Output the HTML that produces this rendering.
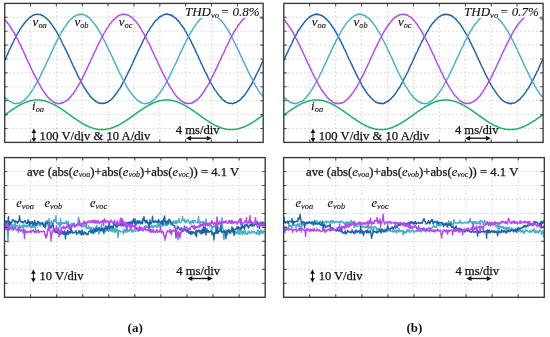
<!DOCTYPE html>
<html><head><meta charset="utf-8"><title>Figure</title><style>html,body{margin:0;padding:0;background:#fff}body{width:550px;height:337px;overflow:hidden}svg{display:block}</style></head><body>
<svg width="550" height="337" viewBox="0 0 550 337">
<style>.g{stroke:#d2d2d2;stroke-width:1;stroke-dasharray:1.6 2.4;fill:none}.f{fill:none;stroke:#383838;stroke-width:1.35}.t{fill:none;stroke:#383838;stroke-width:1.1;opacity:.85}text{font-family:"Liberation Serif",serif;fill:#111;stroke:#111;stroke-width:0.25px}.i{font-style:italic;stroke-width:0.12px}</style>
<rect width="550" height="337" fill="#fff"/>
<line x1="30.55" y1="3.4" x2="30.55" y2="142.4" class="g"/>
<line x1="56.4" y1="3.4" x2="56.4" y2="142.4" class="g"/>
<line x1="82.25" y1="3.4" x2="82.25" y2="142.4" class="g"/>
<line x1="108.1" y1="3.4" x2="108.1" y2="142.4" class="g"/>
<line x1="133.95" y1="3.4" x2="133.95" y2="142.4" class="g"/>
<line x1="159.8" y1="3.4" x2="159.8" y2="142.4" class="g"/>
<line x1="185.65" y1="3.4" x2="185.65" y2="142.4" class="g"/>
<line x1="211.5" y1="3.4" x2="211.5" y2="142.4" class="g"/>
<line x1="237.35" y1="3.4" x2="237.35" y2="142.4" class="g"/>
<line x1="4.7" y1="17.3" x2="263.2" y2="17.3" class="g"/>
<line x1="4.7" y1="31.2" x2="263.2" y2="31.2" class="g"/>
<line x1="4.7" y1="45.1" x2="263.2" y2="45.1" class="g"/>
<line x1="4.7" y1="59" x2="263.2" y2="59" class="g"/>
<line x1="4.7" y1="72.9" x2="263.2" y2="72.9" class="g"/>
<line x1="4.7" y1="86.8" x2="263.2" y2="86.8" class="g"/>
<line x1="4.7" y1="100.7" x2="263.2" y2="100.7" class="g"/>
<line x1="4.7" y1="114.6" x2="263.2" y2="114.6" class="g"/>
<line x1="4.7" y1="128.5" x2="263.2" y2="128.5" class="g"/>
<clipPath id="ct0"><rect x="4.7" y="3.4" width="258.5" height="139.0"/></clipPath>
<g clip-path="url(#ct0)">
<path d="M4.7 59.94 5.2 59.36 5.7 58.22 6.2 56.78 6.7 55.86 7.2 54.75 7.7 53.82 8.2 52.84 8.7 51.28 9.2 50.17 9.7 49.67 10.2 48.33 10.7 47.51 11.2 45.94 11.7 45.21 12.2 44.38 12.7 43.02 13.2 42.51 13.7 41.48 14.2 39.88 14.7 38.9 15.2 38.29 15.7 37.61 16.2 36.28 16.7 35.24 17.2 34.47 17.7 33.29 18.2 32.54 18.7 31.82 19.2 31.01 19.7 29.99 20.2 29.17 20.7 28.36 21.2 27.74 21.7 26.85 22.2 25.92 22.7 25.76 23.2 24.86 23.7 24.23 24.2 23.24 24.7 23.16 25.2 22.44 25.7 21.32 26.2 20.88 26.7 20.59 27.2 20.05 27.7 19.69 28.2 18.84 28.7 18.66 29.2 18.11 29.7 17.43 30.2 17.23 30.7 17.07 31.2 16.7 31.7 16.14 32.2 15.9 32.7 15.25 33.2 15.15 33.7 15.32 34.2 14.86 34.7 14.52 35.2 14.64 35.7 14.64 36.2 14.53 36.7 14.26 37.2 14.27 37.7 14.31 38.2 14.51 38.7 14.38 39.2 14.36 39.7 14.52 40.2 14.32 40.7 14.48 41.2 15.11 41.7 15.51 42.2 15.46 42.7 15.57 43.2 15.7 43.7 16.23 44.2 16.89 44.7 17.1 45.2 17.32 45.7 17.94 46.2 17.93 46.7 18.58 47.2 19.36 47.7 19.59 48.2 20.03 48.7 20.44 49.2 21.2 49.7 22.08 50.2 22.02 50.7 23.2 51.2 23.88 51.7 24.6 52.2 25.19 52.7 25.96 53.2 26.49 53.7 27.27 54.2 27.95 54.7 28.48 55.2 29.86 55.7 30.47 56.2 31.06 56.7 32.13 57.2 32.99 57.7 33.79 58.2 34.69 58.7 35.74 59.2 36.73 59.7 37.67 60.2 38.52 60.7 39.19 61.2 40.31 61.7 41.27 62.2 42.56 62.7 43.76 63.2 44.74 63.7 45.77 64.2 46.82 64.7 47.47 65.2 48.94 65.7 49.88 66.2 50.53 66.7 51.55 67.2 52.62 67.7 54.21 68.2 54.94 68.7 55.92 69.2 57.36 69.7 58.25 70.2 59.14 70.7 60.29 71.2 61.63 71.7 62.46 72.2 63.61 72.7 64.99 73.2 65.88 73.7 66.86 74.2 68.03 74.7 68.77 75.2 70.08 75.7 71.15 76.2 72.02 76.7 72.99 77.2 74.57 77.7 75.31 78.2 76.1 78.7 77.37 79.2 78.5 79.7 78.91 80.2 79.87 80.7 80.91 81.2 82.24 81.7 82.77 82.2 84.05 82.7 84.92 83.2 85.7 83.7 86.34 84.2 87.71 84.7 88.41 85.2 89.02 85.7 89.6 86.2 90.67 86.7 91.25 87.2 92.11 87.7 92.65 88.2 93.56 88.7 93.83 89.2 94.66 89.7 95.76 90.2 96.3 90.7 96.49 91.2 97.45 91.7 97.61 92.2 98.57 92.7 98.93 93.2 99.17 93.7 99.51 94.2 99.77 94.7 100.78 95.2 100.57 95.7 101.47 96.2 101.89 96.7 101.92 97.2 101.92 97.7 102.66 98.2 102.96 98.7 102.97 99.2 103.01 99.7 103.07 100.2 103.17 100.7 103.16 101.2 103.56 101.7 103.44 102.2 103.29 102.7 103.21 103.2 103.57 103.7 103.25 104.2 103.3 104.7 103.07 105.2 103.31 105.7 103.16 106.2 102.35 106.7 102.26 107.2 102.11 107.7 102.3 108.2 101.86 108.7 101.23 109.2 100.8 109.7 100.75 110.2 100.47 110.7 100.12 111.2 99.26 111.7 99.17 112.2 98.54 112.7 97.89 113.2 97.7 113.7 96.62 114.2 96.38 114.7 95.32 115.2 94.76 115.7 94.63 116.2 93.47 116.7 93.17 117.2 92.35 117.7 91.79 118.2 90.71 118.7 89.92 119.2 89.1 119.7 88.7 120.2 87.7 120.7 87.1 121.2 86.2 121.7 84.81 122.2 84.21 122.7 83 123.2 82.04 123.7 81.14 124.2 80.75 124.7 79.74 125.2 78.8 125.7 77.48 126.2 76.68 126.7 75.8 127.2 74.51 127.7 73.63 128.2 72.35 128.7 71.22 129.2 70.31 129.7 69.69 130.2 68.41 130.7 67.6 131.2 66.21 131.7 65.01 132.2 64.29 132.7 63.24 133.2 61.59 133.7 60.97 134.2 59.48 134.7 58.41 135.2 57.87 135.7 56.2 136.2 55.25 136.7 54.7 137.2 53.22 137.7 51.94 138.2 50.9 138.7 49.89 139.2 49.18 139.7 47.68 140.2 47.2 140.7 45.79 141.2 45.17 141.7 44.1 142.2 42.66 142.7 41.62 143.2 40.78 143.7 39.53 144.2 38.95 144.7 37.56 145.2 36.59 145.7 36.33 146.2 34.93 146.7 34.23 147.2 33.23 147.7 32.26 148.2 31.22 148.7 30.97 149.2 30.18 149.7 29.36 150.2 27.96 150.7 27.26 151.2 26.78 151.7 26.3 152.2 25.27 152.7 24.67 153.2 23.97 153.7 23.03 154.2 22.59 154.7 21.81 155.2 21.17 155.7 20.48 156.2 20.07 156.7 20.03 157.2 19.15 157.7 18.81 158.2 18.35 158.7 18.12 159.2 17.33 159.7 16.89 160.2 16.54 160.7 16.2 161.2 16.26 161.7 16.01 162.2 15.33 162.7 15.12 163.2 15.06 163.7 14.9 164.2 14.76 164.7 14.38 165.2 14.12 165.7 14.2 166.2 14.03 166.7 14.34 167.2 14 167.7 14.03 168.2 14.48 168.7 14.32 169.2 14.78 169.7 14.7 170.2 15.12 170.7 14.81 171.2 15.26 171.7 15.7 172.2 15.46 172.7 16.36 173.2 16.13 173.7 16.89 174.2 17.4 174.7 17.67 175.2 17.73 175.7 18.02 176.2 18.76 176.7 19.53 177.2 19.6 177.7 20.55 178.2 20.58 178.7 21.69 179.2 21.67 179.7 22.49 180.2 23.54 180.7 24.14 181.2 24.89 181.7 25.55 182.2 26.21 182.7 26.91 183.2 27.31 183.7 28.27 184.2 28.87 184.7 30.08 185.2 30.88 185.7 31.44 186.2 32.17 186.7 33.68 187.2 34.47 187.7 35.2 188.2 36.11 188.7 37.27 189.2 37.94 189.7 38.86 190.2 39.8 190.7 40.73 191.2 41.56 191.7 43 192.2 43.86 192.7 44.99 193.2 45.67 193.7 46.92 194.2 47.81 194.7 48.86 195.2 50.01 195.7 51.47 196.2 52.24 196.7 53.32 197.2 54.54 197.7 55.36 198.2 56.28 198.7 57.73 199.2 58.79 199.7 59.98 200.2 60.92 200.7 62.17 201.2 63.28 201.7 64.01 202.2 65.27 202.7 66.33 203.2 67.22 203.7 68.41 204.2 69.57 204.7 70.86 205.2 71.91 205.7 72.49 206.2 73.78 206.7 74.38 207.2 75.4 207.7 76.71 208.2 77.96 208.7 78.43 209.2 79.82 209.7 80.86 210.2 81.4 210.7 82.59 211.2 83.61 211.7 84.18 212.2 85.29 212.7 86.18 213.2 86.94 213.7 87.96 214.2 88.8 214.7 89.65 215.2 90.16 215.7 90.65 216.2 91.45 216.7 92.15 217.2 93.1 217.7 93.92 218.2 94.09 218.7 95.18 219.2 95.83 219.7 96.17 220.2 96.87 220.7 97.18 221.2 98.11 221.7 98.14 222.2 99.29 222.7 99.63 223.2 99.95 223.7 100.11 224.2 100.96 224.7 101.36 225.2 101.12 225.7 101.89 226.2 102.23 226.7 102.37 227.2 102.64 227.7 102.67 228.2 103.2 228.7 103.4 229.2 103.12 229.7 103.53 230.2 103.35 230.7 103.23 231.2 103.37 231.7 103.24 232.2 103.77 232.7 103.75 233.2 103.09 233.7 103.33 234.2 103.07 234.7 102.72 235.2 102.67 235.7 102.43 236.2 102.55 236.7 101.78 237.2 101.63 237.7 101.5 238.2 100.87 238.7 100.94 239.2 100.55 239.7 100.3 240.2 99.43 240.7 99.04 241.2 98.74 241.7 98.05 242.2 97.75 242.7 96.97 243.2 96.7 243.7 96.18 244.2 95.58 244.7 95.06 245.2 94.11 245.7 93.39 246.2 92.95 246.7 92.17 247.2 91.3 247.7 90.41 248.2 89.57 248.7 88.65 249.2 88.33 249.7 87.02 250.2 86.62 250.7 85.62 251.2 85.04 251.7 84 252.2 83.24 252.7 81.74 253.2 81.06 253.7 80.16 254.2 79.02 254.7 78.18 255.2 77.1 255.7 76.23 256.2 74.85 256.7 74.15 257.2 73.13 257.7 72 258.2 71.03 258.7 70.25 259.2 69.13 259.7 67.93 260.2 66.98 260.7 65.72 261.2 64.53 261.7 63.31 262.2 62.42 262.7 61.57 263.2 60.68" fill="none" stroke="#1c63a8" stroke-width="1.45" stroke-linejoin="round" />
<path d="M4.7 97.09 5.2 97.42 5.7 98.29 6.2 98.44 6.7 99.19 7.2 99.35 7.7 100.03 8.2 100.62 8.7 100.53 9.2 100.8 9.7 101.46 10.2 101.72 10.7 101.89 11.2 101.91 11.7 102.42 12.2 102.66 12.7 102.84 13.2 103.32 13.7 103.26 14.2 103.48 14.7 103.68 15.2 103.63 15.7 103.49 16.2 103.67 16.7 103.58 17.2 103.54 17.7 103.45 18.2 103.2 18.7 103.23 19.2 103.08 19.7 103.12 20.2 102.8 20.7 102.62 21.2 102.31 21.7 102.06 22.2 101.61 22.7 101.1 23.2 100.69 23.7 100.62 24.2 100.33 24.7 99.67 25.2 98.94 25.7 98.94 26.2 98.2 26.7 97.66 27.2 96.82 27.7 96.58 28.2 96.15 28.7 95.31 29.2 94.63 29.7 94.19 30.2 93.06 30.7 92.71 31.2 92.3 31.7 91.38 32.2 90.43 32.7 89.85 33.2 89 33.7 87.91 34.2 87.09 34.7 86.72 35.2 85.42 35.7 84.41 36.2 84.05 36.7 82.93 37.2 81.9 37.7 81.07 38.2 80.28 38.7 78.92 39.2 78.29 39.7 77.35 40.2 76.43 40.7 75.04 41.2 74.26 41.7 72.98 42.2 72.18 42.7 70.87 43.2 70.25 43.7 69.25 44.2 67.82 44.7 66.68 45.2 66.13 45.7 64.88 46.2 63.9 46.7 62.25 47.2 61.78 47.7 60.5 48.2 59.21 48.7 58.2 49.2 57.35 49.7 56.28 50.2 54.79 50.7 54.01 51.2 52.62 51.7 52.11 52.2 50.67 52.7 49.94 53.2 48.75 53.7 47.61 54.2 46.33 54.7 45.48 55.2 44.18 55.7 43.16 56.2 42.55 56.7 41.3 57.2 40.58 57.7 39.24 58.2 38.61 58.7 37.65 59.2 36.42 59.7 35.35 60.2 34.63 60.7 33.8 61.2 32.63 61.7 31.82 62.2 30.87 62.7 30.41 63.2 29.79 63.7 28.51 64.2 27.6 64.7 27.3 65.2 26.62 65.7 25.99 66.2 25.04 66.7 24.15 67.2 23.83 67.7 22.67 68.2 22.44 68.7 21.42 69.2 21.04 69.7 20.55 70.2 19.92 70.7 19.26 71.2 18.8 71.7 18.74 72.2 18.05 72.7 17.7 73.2 17.05 73.7 17.02 74.2 16.4 74.7 16.26 75.2 16.18 75.7 15.97 76.2 15.06 76.7 15.36 77.2 15.2 77.7 14.65 78.2 14.55 78.7 14.57 79.2 14.72 79.7 14.29 80.2 14.58 80.7 14.48 81.2 14.07 81.7 14.64 82.2 14.08 82.7 14.26 83.2 14.74 83.7 14.46 84.2 14.85 84.7 14.87 85.2 15.32 85.7 15.83 86.2 16.15 86.7 15.84 87.2 16.18 87.7 17.08 88.2 16.89 88.7 17.45 89.2 17.76 89.7 18.19 90.2 18.61 90.7 19.53 91.2 20.13 91.7 20.62 92.2 21.3 92.7 21.75 93.2 22.17 93.7 22.97 94.2 23.85 94.7 24.29 95.2 24.71 95.7 25.29 96.2 26.63 96.7 27.14 97.2 27.74 97.7 28.71 98.2 29.48 98.7 30.27 99.2 30.79 99.7 31.85 100.2 32.76 100.7 33.5 101.2 34.88 101.7 35.48 102.2 36.57 102.7 37.55 103.2 38.53 103.7 39.48 104.2 40.48 104.7 41.12 105.2 42.63 105.7 43.06 106.2 44.62 106.7 45.6 107.2 46.64 107.7 47.12 108.2 48.2 108.7 49.76 109.2 50.58 109.7 51.58 110.2 53.08 110.7 53.5 111.2 54.92 111.7 55.94 112.2 56.8 112.7 58.07 113.2 59.37 113.7 60.58 114.2 61.06 114.7 62.49 115.2 63.26 115.7 64.84 116.2 65.41 116.7 66.44 117.2 67.75 117.7 69.06 118.2 69.81 118.7 70.73 119.2 72.24 119.7 73.28 120.2 74.34 120.7 74.96 121.2 76.05 121.7 76.92 122.2 78.12 122.7 78.94 123.2 79.9 123.7 81.16 124.2 82.22 124.7 82.88 125.2 83.45 125.7 84.73 126.2 85.46 126.7 86.7 127.2 87.36 127.7 88.27 128.2 88.99 128.7 89.67 129.2 90.7 129.7 91.41 130.2 91.77 130.7 92.39 131.2 93.24 131.7 94.02 132.2 94.39 132.7 95.2 133.2 95.97 133.7 96.19 134.2 97.3 134.7 97.74 135.2 98.03 135.7 98.52 136.2 99.04 136.7 99.47 137.2 100.2 137.7 100.43 138.2 100.83 138.7 100.93 139.2 101.8 139.7 101.69 140.2 101.98 140.7 102.05 141.2 102.92 141.7 102.78 142.2 103.26 142.7 103.42 143.2 103.58 143.7 103.57 144.2 103.73 144.7 103.77 145.2 103.71 145.7 103.24 146.2 103.48 146.7 103.46 147.2 103.67 147.7 103.41 148.2 103.22 148.7 103.09 149.2 102.63 149.7 102.83 150.2 102.38 150.7 101.95 151.2 101.7 151.7 101.75 152.2 101.09 152.7 100.47 153.2 100.07 153.7 100.03 154.2 99.51 154.7 99.28 155.2 98.29 155.7 97.94 156.2 97.63 156.7 96.6 157.2 96.06 157.7 95.77 158.2 94.95 158.7 94.2 159.2 93.64 159.7 93.22 160.2 92.44 160.7 91.4 161.2 90.65 161.7 90.43 162.2 89.51 162.7 88.38 163.2 88.04 163.7 86.62 164.2 86.01 164.7 85.48 165.2 84.5 165.7 83.31 166.2 82.82 166.7 81.69 167.2 80.94 167.7 80 168.2 78.71 168.7 77.91 169.2 76.83 169.7 76.12 170.2 75.01 170.7 73.94 171.2 72.97 171.7 72.07 172.2 70.51 172.7 69.42 173.2 68.75 173.7 67.7 174.2 66.46 174.7 65.37 175.2 64.24 175.7 63.5 176.2 62.36 176.7 61.13 177.2 59.66 177.7 59.15 178.2 57.79 178.7 56.52 179.2 55.51 179.7 54.71 180.2 53.15 180.7 52.16 181.2 51.21 181.7 50.56 182.2 49.4 182.7 48.5 183.2 47.15 183.7 46.13 184.2 45.08 184.7 44.04 185.2 43.03 185.7 42.22 186.2 41.31 186.7 39.95 187.2 39.13 187.7 37.94 188.2 36.98 188.7 36.18 189.2 35.31 189.7 34.38 190.2 33.78 190.7 32.33 191.2 31.79 191.7 31.19 192.2 30.18 192.7 29.24 193.2 28.3 193.7 27.54 194.2 27.16 194.7 26.38 195.2 25.5 195.7 24.96 196.2 24.29 196.7 23.57 197.2 22.6 197.7 22.04 198.2 21.67 198.7 20.8 199.2 20.5 199.7 19.78 200.2 19.17 200.7 18.77 201.2 18.07 201.7 17.8 202.2 17.43 202.7 16.76 203.2 16.5 203.7 16.22 204.2 16.33 204.7 15.85 205.2 15.37 205.7 15.63 206.2 14.9 206.7 14.89 207.2 14.89 207.7 14.72 208.2 14.43 208.7 14.59 209.2 14.33 209.7 14.46 210.2 14.3 210.7 14.65 211.2 14.52 211.7 14.16 212.2 14.29 212.7 15 213.2 14.64 213.7 14.68 214.2 15.04 214.7 15.43 215.2 16.02 215.7 15.91 216.2 16.45 216.7 16.86 217.2 16.7 217.7 17.44 218.2 18.12 218.7 18.24 219.2 18.68 219.7 19.03 220.2 19.95 220.7 20.5 221.2 20.44 221.7 21.32 222.2 21.82 222.7 22.62 223.2 22.87 223.7 23.63 224.2 24.31 224.7 25.15 225.2 26.09 225.7 26.88 226.2 27.58 226.7 28.28 227.2 28.66 227.7 29.69 228.2 30.71 228.7 31.29 229.2 32.31 229.7 33.46 230.2 33.8 230.7 35.23 231.2 35.62 231.7 36.76 232.2 38.07 232.7 38.53 233.2 39.73 233.7 40.64 234.2 41.97 234.7 43.04 235.2 43.57 235.7 44.73 236.2 46.05 236.7 46.84 237.2 47.65 237.7 49.09 238.2 49.85 238.7 51.02 239.2 51.76 239.7 53.51 240.2 54.36 240.7 55.63 241.2 56.74 241.7 57.33 242.2 58.6 242.7 59.62 243.2 60.92 243.7 62.06 244.2 62.71 244.7 63.82 245.2 65.2 245.7 66.07 246.2 66.94 246.7 68.04 247.2 69.36 247.7 70.43 248.2 71.73 248.7 72.47 249.2 73.55 249.7 74.25 250.2 75.44 250.7 76.35 251.2 77.63 251.7 78.31 252.2 79.24 252.7 80.3 253.2 81.32 253.7 82.16 254.2 83.26 254.7 83.86 255.2 85.24 255.7 85.98 256.2 86.73 256.7 87.23 257.2 88.24 257.7 89.3 258.2 90.06 258.7 90.94 259.2 91.75 259.7 92.07 260.2 92.91 260.7 93.49 261.2 94.01 261.7 94.67 262.2 95.38 262.7 95.87 263.2 96.77" fill="none" stroke="#4aaecb" stroke-width="1.45" stroke-linejoin="round" />
<path d="M4.7 19.78 5.2 20.21 5.7 20.85 6.2 21.1 6.7 21.67 7.2 22.54 7.7 23.4 8.2 23.74 8.7 24.12 9.2 24.83 9.7 25.75 10.2 26.71 10.7 27.09 11.2 27.97 11.7 29.08 12.2 30.1 12.7 30.48 13.2 31.51 13.7 32.31 14.2 32.84 14.7 33.95 15.2 34.73 15.7 35.73 16.2 37.02 16.7 37.91 17.2 38.42 17.7 39.42 18.2 40.86 18.7 41.42 19.2 42.57 19.7 43.55 20.2 44.42 20.7 45.44 21.2 46.56 21.7 47.78 22.2 49.21 22.7 50.06 23.2 50.85 23.7 52.23 24.2 53.01 24.7 54.26 25.2 55.2 25.7 56.72 26.2 57.39 26.7 58.79 27.2 59.76 27.7 60.98 28.2 61.9 28.7 63.16 29.2 63.92 29.7 65.18 30.2 66.21 30.7 67.21 31.2 68.3 31.7 69.34 32.2 70.29 32.7 71.69 33.2 72.54 33.7 73.51 34.2 74.18 34.7 75.51 35.2 76.28 35.7 77.3 36.2 78.43 36.7 79.47 37.2 80.22 37.7 81.18 38.2 82.29 38.7 83.17 39.2 84.02 39.7 84.7 40.2 85.76 40.7 86.81 41.2 87.57 41.7 88.39 42.2 89.41 42.7 90.11 43.2 90.85 43.7 91.14 44.2 92.07 44.7 93.04 45.2 93.36 45.7 94.56 46.2 94.67 46.7 95.82 47.2 95.96 47.7 96.98 48.2 97.55 48.7 97.73 49.2 98.63 49.7 98.62 50.2 99.57 50.7 99.69 51.2 100.15 51.7 100.32 52.2 101.03 52.7 101.15 53.2 101.75 53.7 102.14 54.2 102.28 54.7 102.11 55.2 102.99 55.7 103.16 56.2 103.13 56.7 103.09 57.2 103.34 57.7 103.65 58.2 103.42 58.7 103.68 59.2 103.57 59.7 103.43 60.2 103.75 60.7 103.31 61.2 103.36 61.7 102.85 62.2 103 62.7 102.52 63.2 102.79 63.7 102.08 64.2 101.86 64.7 101.63 65.2 101.35 65.7 101.28 66.2 100.83 66.7 100.39 67.2 100.49 67.7 100.01 68.2 99.39 68.7 99.02 69.2 98.54 69.7 97.61 70.2 97.47 70.7 96.5 71.2 96.14 71.7 95.39 72.2 94.62 72.7 94.4 73.2 93.83 73.7 92.71 74.2 92.4 74.7 91.29 75.2 90.76 75.7 90.22 76.2 89.28 76.7 87.97 77.2 87.41 77.7 86.53 78.2 85.62 78.7 85.11 79.2 83.96 79.7 83.23 80.2 82.27 80.7 81.26 81.2 79.99 81.7 79.47 82.2 78.65 82.7 77.17 83.2 76.5 83.7 75.39 84.2 74.28 84.7 73.52 85.2 72.67 85.7 70.97 86.2 70.54 86.7 69.13 87.2 68.39 87.7 66.86 88.2 66.17 88.7 64.67 89.2 63.76 89.7 63.13 90.2 61.83 90.7 60.83 91.2 59.52 91.7 58.45 92.2 57.38 92.7 56.49 93.2 55.38 93.7 53.93 94.2 53.02 94.7 52.02 95.2 50.97 95.7 50.16 96.2 49.04 96.7 47.5 97.2 46.62 97.7 45.39 98.2 44.3 98.7 43.31 99.2 42.38 99.7 41.78 100.2 40.72 100.7 39.83 101.2 38.5 101.7 37.45 102.2 37.07 102.7 36.04 103.2 35.2 103.7 33.64 104.2 33.02 104.7 32.31 105.2 31.52 105.7 30.8 106.2 29.71 106.7 28.8 107.2 27.73 107.7 27.52 108.2 26.89 108.7 26.1 109.2 25.21 109.7 24.29 110.2 23.54 110.7 23.26 111.2 22.74 111.7 22.14 112.2 21 112.7 20.72 113.2 20.12 113.7 19.54 114.2 19.3 114.7 18.92 115.2 18.32 115.7 17.87 116.2 17.46 116.7 17.05 117.2 16.62 117.7 16.08 118.2 16.15 118.7 15.41 119.2 15.52 119.7 15.11 120.2 15.03 120.7 14.91 121.2 14.65 121.7 14.87 122.2 14.26 122.7 14.03 123.2 14.64 123.7 14.17 124.2 14.15 124.7 14.28 125.2 14.47 125.7 14.83 126.2 14.74 126.7 14.61 127.2 14.92 127.7 15.05 128.2 15.31 128.7 15.49 129.2 15.58 129.7 16.03 130.2 16.35 130.7 16.56 131.2 17.36 131.7 17.43 132.2 17.7 132.7 18.43 133.2 19.09 133.7 19.53 134.2 19.93 134.7 20.55 135.2 20.83 135.7 21.27 136.2 21.95 136.7 22.64 137.2 23.24 137.7 24.04 138.2 24.5 138.7 25.19 139.2 26.01 139.7 26.71 140.2 27.9 140.7 28.5 141.2 29.06 141.7 30.04 142.2 31.19 142.7 31.84 143.2 32.69 143.7 33.46 144.2 34.22 144.7 35.43 145.2 35.98 145.7 37.41 146.2 37.86 146.7 39.3 147.2 40.03 147.7 41.22 148.2 42.16 148.7 42.84 149.2 44.15 149.7 44.85 150.2 46 150.7 47.14 151.2 48.13 151.7 49.44 152.2 50.73 152.7 51.36 153.2 52.77 153.7 53.41 154.2 54.83 154.7 55.65 155.2 56.87 155.7 57.64 156.2 59.24 156.7 59.89 157.2 61.15 157.7 62.11 158.2 63.55 158.7 64.48 159.2 65.57 159.7 66.73 160.2 67.45 160.7 68.37 161.2 69.97 161.7 70.65 162.2 72.04 162.7 73.18 163.2 73.97 163.7 74.62 164.2 76.15 164.7 77 165.2 77.71 165.7 78.66 166.2 79.83 166.7 80.51 167.2 82 167.7 82.78 168.2 83.77 168.7 84.36 169.2 85.62 169.7 85.93 170.2 87.19 170.7 87.7 171.2 88.34 171.7 89.22 172.2 90.06 172.7 91.21 173.2 91.68 173.7 92.48 174.2 93.27 174.7 93.71 175.2 94.63 175.7 95.3 176.2 96.09 176.7 96.4 177.2 97.22 177.7 97.85 178.2 98.24 178.7 98.51 179.2 98.89 179.7 99.22 180.2 100.17 180.7 100.1 181.2 100.78 181.7 101.07 182.2 101.12 182.7 101.56 183.2 102.27 183.7 102.33 184.2 102.84 184.7 103.04 185.2 102.65 185.7 103.22 186.2 102.91 186.7 103.28 187.2 103.37 187.7 103.79 188.2 103.56 188.7 103.28 189.2 103.48 189.7 103.44 190.2 103.13 190.7 103.14 191.2 103.37 191.7 103.29 192.2 102.97 192.7 102.26 193.2 102.61 193.7 102.04 194.2 102.02 194.7 101.25 195.2 100.89 195.7 101.06 196.2 100.24 196.7 99.66 197.2 99.55 197.7 99.44 198.2 98.85 198.7 98.03 199.2 97.92 199.7 97.24 200.2 96.69 200.7 95.96 201.2 95.17 201.7 94.89 202.2 93.92 202.7 93.57 203.2 92.6 203.7 92.13 204.2 91.08 204.7 90.29 205.2 89.63 205.7 88.64 206.2 87.71 206.7 87.19 207.2 86.52 207.7 85.26 208.2 84.79 208.7 83.84 209.2 82.92 209.7 81.75 210.2 81.22 210.7 80.12 211.2 79.01 211.7 77.72 212.2 77.05 212.7 75.67 213.2 75.28 213.7 73.87 214.2 72.87 214.7 71.96 215.2 70.98 215.7 69.9 216.2 68.78 216.7 67.82 217.2 66.91 217.7 65.56 218.2 64.52 218.7 63.66 219.2 62.02 219.7 61.05 220.2 60.08 220.7 58.92 221.2 58.31 221.7 56.7 222.2 55.59 222.7 54.66 223.2 53.72 223.7 52.86 224.2 51.91 224.7 50.74 225.2 49.51 225.7 48.06 226.2 47.02 226.7 46.38 227.2 45.48 227.7 44.06 228.2 43.53 228.7 42.23 229.2 41.25 229.7 40.29 230.2 38.93 230.7 38.03 231.2 37.61 231.7 36.2 232.2 35.15 232.7 34.37 233.2 33.78 233.7 32.57 234.2 31.67 234.7 30.86 235.2 30.16 235.7 29.52 236.2 28.41 236.7 28.03 237.2 27.33 237.7 26.48 238.2 25.23 238.7 24.69 239.2 24.43 239.7 23.71 240.2 22.55 240.7 22.15 241.2 21.49 241.7 21.17 242.2 20.11 242.7 19.77 243.2 19.56 243.7 19.17 244.2 18.11 244.7 18.05 245.2 17.68 245.7 17.43 246.2 16.75 246.7 16.79 247.2 15.92 247.7 15.57 248.2 15.31 248.7 15.39 249.2 14.84 249.7 14.75 250.2 14.54 250.7 14.3 251.2 14.82 251.7 14.29 252.2 14.67 252.7 14.47 253.2 14.1 253.7 14.62 254.2 14.02 254.7 14.77 255.2 14.2 255.7 14.48 256.2 14.83 256.7 14.63 257.2 15.36 257.7 15.11 258.2 15.87 258.7 15.6 259.2 16.25 259.7 16.35 260.2 16.76 260.7 17.28 261.2 17.6 261.7 18.04 262.2 18.67 262.7 18.83 263.2 19.32" fill="none" stroke="#b846f2" stroke-width="1.45" stroke-linejoin="round" />
<path d="M4.7 115.02 5.2 114.66 5.7 114.3 6.2 113.94 6.7 113.58 7.2 113.22 7.7 112.86 8.2 112.51 8.7 112.15 9.2 111.8 9.7 111.45 10.2 111.1 10.7 110.75 11.2 110.41 11.7 110.07 12.2 109.73 12.7 109.39 13.2 109.06 13.7 108.73 14.2 108.4 14.7 108.08 15.2 107.76 15.7 107.45 16.2 107.14 16.7 106.83 17.2 106.53 17.7 106.24 18.2 105.94 18.7 105.66 19.2 105.38 19.7 105.1 20.2 104.84 20.7 104.57 21.2 104.32 21.7 104.07 22.2 103.82 22.7 103.58 23.2 103.35 23.7 103.13 24.2 102.91 24.7 102.7 25.2 102.5 25.7 102.3 26.2 102.11 26.7 101.93 27.2 101.76 27.7 101.59 28.2 101.43 28.7 101.28 29.2 101.14 29.7 101 30.2 100.88 30.7 100.76 31.2 100.65 31.7 100.55 32.2 100.46 32.7 100.37 33.2 100.3 33.7 100.23 34.2 100.17 34.7 100.12 35.2 100.08 35.7 100.05 36.2 100.02 36.7 100.01 37.2 100 37.7 100 38.2 100.01 38.7 100.03 39.2 100.06 39.7 100.1 40.2 100.14 40.7 100.2 41.2 100.26 41.7 100.33 42.2 100.41 42.7 100.5 43.2 100.6 43.7 100.7 44.2 100.82 44.7 100.94 45.2 101.07 45.7 101.21 46.2 101.36 46.7 101.51 47.2 101.67 47.7 101.84 48.2 102.02 48.7 102.2 49.2 102.4 49.7 102.6 50.2 102.8 50.7 103.02 51.2 103.24 51.7 103.47 52.2 103.7 52.7 103.94 53.2 104.19 53.7 104.44 54.2 104.7 54.7 104.97 55.2 105.24 55.7 105.52 56.2 105.8 56.7 106.09 57.2 106.38 57.7 106.68 58.2 106.98 58.7 107.29 59.2 107.6 59.7 107.92 60.2 108.24 60.7 108.56 61.2 108.89 61.7 109.22 62.2 109.56 62.7 109.9 63.2 110.24 63.7 110.58 64.2 110.93 64.7 111.27 65.2 111.62 65.7 111.98 66.2 112.33 66.7 112.69 67.2 113.04 67.7 113.4 68.2 113.76 68.7 114.12 69.2 114.48 69.7 114.84 70.2 115.2 70.7 115.55 71.2 115.91 71.7 116.27 72.2 116.63 72.7 116.99 73.2 117.34 73.7 117.69 74.2 118.05 74.7 118.4 75.2 118.74 75.7 119.09 76.2 119.43 76.7 119.77 77.2 120.11 77.7 120.44 78.2 120.77 78.7 121.1 79.2 121.42 79.7 121.74 80.2 122.06 80.7 122.37 81.2 122.68 81.7 122.98 82.2 123.28 82.7 123.57 83.2 123.86 83.7 124.14 84.2 124.41 84.7 124.68 85.2 124.95 85.7 125.21 86.2 125.46 86.7 125.71 87.2 125.95 87.7 126.18 88.2 126.41 88.7 126.63 89.2 126.84 89.7 127.04 90.2 127.24 90.7 127.43 91.2 127.62 91.7 127.79 92.2 127.96 92.7 128.12 93.2 128.27 93.7 128.42 94.2 128.56 94.7 128.68 95.2 128.81 95.7 128.92 96.2 129.02 96.7 129.12 97.2 129.2 97.7 129.28 98.2 129.35 98.7 129.41 99.2 129.47 99.7 129.51 100.2 129.54 100.7 129.57 101.2 129.59 101.7 129.6 102.2 129.6 102.7 129.59 103.2 129.57 103.7 129.55 104.2 129.51 104.7 129.47 105.2 129.42 105.7 129.36 106.2 129.29 106.7 129.21 107.2 129.13 107.7 129.03 108.2 128.93 108.7 128.82 109.2 128.7 109.7 128.57 110.2 128.43 110.7 128.29 111.2 128.14 111.7 127.98 112.2 127.81 112.7 127.64 113.2 127.45 113.7 127.26 114.2 127.06 114.7 126.86 115.2 126.65 115.7 126.43 116.2 126.2 116.7 125.97 117.2 125.73 117.7 125.49 118.2 125.23 118.7 124.98 119.2 124.71 119.7 124.44 120.2 124.17 120.7 123.88 121.2 123.6 121.7 123.31 122.2 123.01 122.7 122.71 123.2 122.4 123.7 122.09 124.2 121.78 124.7 121.46 125.2 121.13 125.7 120.81 126.2 120.48 126.7 120.14 127.2 119.81 127.7 119.47 128.2 119.12 128.7 118.78 129.2 118.43 129.7 118.08 130.2 117.73 130.7 117.38 131.2 117.02 131.7 116.66 132.2 116.31 132.7 115.95 133.2 115.59 133.7 115.23 134.2 114.87 134.7 114.51 135.2 114.15 135.7 113.79 136.2 113.44 136.7 113.08 137.2 112.72 137.7 112.37 138.2 112.01 138.7 111.66 139.2 111.31 139.7 110.96 140.2 110.61 140.7 110.27 141.2 109.93 141.7 109.59 142.2 109.26 142.7 108.93 143.2 108.6 143.7 108.27 144.2 107.95 144.7 107.63 145.2 107.32 145.7 107.01 146.2 106.71 146.7 106.41 147.2 106.12 147.7 105.83 148.2 105.55 148.7 105.27 149.2 105 149.7 104.73 150.2 104.47 150.7 104.21 151.2 103.97 151.7 103.72 152.2 103.49 152.7 103.26 153.2 103.04 153.7 102.82 154.2 102.62 154.7 102.42 155.2 102.22 155.7 102.04 156.2 101.86 156.7 101.69 157.2 101.53 157.7 101.37 158.2 101.22 158.7 101.08 159.2 100.95 159.7 100.83 160.2 100.72 160.7 100.61 161.2 100.51 161.7 100.42 162.2 100.34 162.7 100.27 163.2 100.2 163.7 100.15 164.2 100.1 164.7 100.06 165.2 100.04 165.7 100.01 166.2 100 166.7 100 167.2 100.01 167.7 100.02 168.2 100.04 168.7 100.08 169.2 100.12 169.7 100.16 170.2 100.22 170.7 100.29 171.2 100.36 171.7 100.45 172.2 100.54 172.7 100.64 173.2 100.75 173.7 100.87 174.2 100.99 174.7 101.12 175.2 101.27 175.7 101.42 176.2 101.57 176.7 101.74 177.2 101.91 177.7 102.09 178.2 102.28 178.7 102.48 179.2 102.68 179.7 102.89 180.2 103.11 180.7 103.33 181.2 103.56 181.7 103.8 182.2 104.04 182.7 104.29 183.2 104.55 183.7 104.81 184.2 105.08 184.7 105.35 185.2 105.63 185.7 105.92 186.2 106.21 186.7 106.5 187.2 106.8 187.7 107.11 188.2 107.42 188.7 107.73 189.2 108.05 189.7 108.37 190.2 108.7 190.7 109.02 191.2 109.36 191.7 109.69 192.2 110.03 192.7 110.37 193.2 110.72 193.7 111.07 194.2 111.41 194.7 111.77 195.2 112.12 195.7 112.47 196.2 112.83 196.7 113.19 197.2 113.54 197.7 113.9 198.2 114.26 198.7 114.62 199.2 114.98 199.7 115.34 200.2 115.7 200.7 116.06 201.2 116.41 201.7 116.77 202.2 117.13 202.7 117.48 203.2 117.83 203.7 118.19 204.2 118.53 204.7 118.88 205.2 119.23 205.7 119.57 206.2 119.91 206.7 120.24 207.2 120.58 207.7 120.9 208.2 121.23 208.7 121.55 209.2 121.87 209.7 122.18 210.2 122.49 210.7 122.8 211.2 123.1 211.7 123.39 212.2 123.68 212.7 123.97 213.2 124.25 213.7 124.52 214.2 124.79 214.7 125.05 215.2 125.31 215.7 125.56 216.2 125.8 216.7 126.04 217.2 126.27 217.7 126.49 218.2 126.71 218.7 126.92 219.2 127.12 219.7 127.32 220.2 127.51 220.7 127.69 221.2 127.86 221.7 128.03 222.2 128.18 222.7 128.33 223.2 128.48 223.7 128.61 224.2 128.73 224.7 128.85 225.2 128.96 225.7 129.06 226.2 129.15 226.7 129.24 227.2 129.31 227.7 129.38 228.2 129.44 228.7 129.48 229.2 129.52 229.7 129.56 230.2 129.58 230.7 129.59 231.2 129.6 231.7 129.6 232.2 129.59 232.7 129.56 233.2 129.54 233.7 129.5 234.2 129.45 234.7 129.4 235.2 129.33 235.7 129.26 236.2 129.18 236.7 129.09 237.2 128.99 237.7 128.88 238.2 128.77 238.7 128.65 239.2 128.52 239.7 128.38 240.2 128.23 240.7 128.07 241.2 127.91 241.7 127.74 242.2 127.56 242.7 127.38 243.2 127.18 243.7 126.98 244.2 126.78 244.7 126.56 245.2 126.34 245.7 126.11 246.2 125.88 246.7 125.63 247.2 125.39 247.7 125.13 248.2 124.87 248.7 124.6 249.2 124.33 249.7 124.05 250.2 123.77 250.7 123.48 251.2 123.19 251.7 122.89 252.2 122.59 252.7 122.28 253.2 121.97 253.7 121.65 254.2 121.33 254.7 121 255.2 120.67 255.7 120.34 256.2 120.01 256.7 119.67 257.2 119.33 257.7 118.99 258.2 118.64 258.7 118.29 259.2 117.94 259.7 117.59 260.2 117.23 260.7 116.88 261.2 116.52 261.7 116.16 262.2 115.81 262.7 115.45 263.2 115.09" fill="none" stroke="#1ab262" stroke-width="1.5" stroke-linejoin="round" />
</g>
<rect x="182" y="4.2" width="78.5" height="13.6" fill="#fff"/>
<path d="M30.55 3.4v3M30.55 142.4v-3M56.4 3.4v3M56.4 142.4v-3M82.25 3.4v3M82.25 142.4v-3M108.1 3.4v3M108.1 142.4v-3M133.95 3.4v3M133.95 142.4v-3M159.8 3.4v3M159.8 142.4v-3M185.65 3.4v3M185.65 142.4v-3M211.5 3.4v3M211.5 142.4v-3M237.35 3.4v3M237.35 142.4v-3M4.7 17.3h3M263.2 17.3h-3M4.7 31.2h3M263.2 31.2h-3M4.7 45.1h3M263.2 45.1h-3M4.7 59h3M263.2 59h-3M4.7 72.9h3M263.2 72.9h-3M4.7 86.8h3M263.2 86.8h-3M4.7 100.7h3M263.2 100.7h-3M4.7 114.6h3M263.2 114.6h-3M4.7 128.5h3M263.2 128.5h-3" class="t"/>
<rect x="4.7" y="3.4" width="258.5" height="139" class="f"/>
<text x="32.6" y="26" class="i" font-size="13">v<tspan font-size="8.4" dy="1.6">oa</tspan></text>
<text x="74.4" y="26" class="i" font-size="13">v<tspan font-size="8.4" dy="1.6">ob</tspan></text>
<text x="118.8" y="26" class="i" font-size="13">v<tspan font-size="8.4" dy="1.6">oc</tspan></text>
<text x="32" y="110" class="i" font-size="13">i<tspan font-size="8.4" dy="1.6">oa</tspan></text>
<text x="185" y="15.8" class="i" font-size="13">THD<tspan font-size="8.6" dy="2.1">vo</tspan></text>
<text x="220.6" y="15.8" class="i" font-size="13">= 0.8%</text>
<text x="39.6" y="139.5" font-size="12.65">100 V/div &amp; 10 A/div</text>
<text x="175.8" y="134" font-size="12.6">4 ms/div</text>
<path d="M33.9 130.5V140.5" stroke="#111" stroke-width="1"/>
<path d="M31.6 133L33.9 128.7L36.2 133Z M31.6 138L33.9 142.2L36.2 138Z" fill="#111"/>
<path d="M189 138.2H208.8" stroke="#111" stroke-width="1.3"/>
<path d="M186 138.2L191 135.7L191 140.7Z M211.8 138.2L206.8 135.7L206.8 140.7Z" fill="#111"/>
<line x1="30.57" y1="157.6" x2="30.57" y2="297.3" class="g"/>
<line x1="56.64" y1="157.6" x2="56.64" y2="297.3" class="g"/>
<line x1="82.71" y1="157.6" x2="82.71" y2="297.3" class="g"/>
<line x1="108.78" y1="157.6" x2="108.78" y2="297.3" class="g"/>
<line x1="134.85" y1="157.6" x2="134.85" y2="297.3" class="g"/>
<line x1="160.92" y1="157.6" x2="160.92" y2="297.3" class="g"/>
<line x1="186.99" y1="157.6" x2="186.99" y2="297.3" class="g"/>
<line x1="213.06" y1="157.6" x2="213.06" y2="297.3" class="g"/>
<line x1="239.13" y1="157.6" x2="239.13" y2="297.3" class="g"/>
<line x1="4.5" y1="171.57" x2="265.2" y2="171.57" class="g"/>
<line x1="4.5" y1="185.54" x2="265.2" y2="185.54" class="g"/>
<line x1="4.5" y1="199.51" x2="265.2" y2="199.51" class="g"/>
<line x1="4.5" y1="213.48" x2="265.2" y2="213.48" class="g"/>
<line x1="4.5" y1="227.45" x2="265.2" y2="227.45" class="g"/>
<line x1="4.5" y1="241.42" x2="265.2" y2="241.42" class="g"/>
<line x1="4.5" y1="255.39" x2="265.2" y2="255.39" class="g"/>
<line x1="4.5" y1="269.36" x2="265.2" y2="269.36" class="g"/>
<line x1="4.5" y1="283.33" x2="265.2" y2="283.33" class="g"/>
<clipPath id="cb0"><rect x="4.5" y="157.6" width="260.7" height="139.7"/></clipPath>
<g clip-path="url(#cb0)">
<path d="M4.5 224.09 5 226.03 5.5 224 6 225.54 6.5 224.18 7 228.15 7.5 231.57 8 242.22 8.5 228.83 9 226.17 9.5 229.57 10 226.63 10.5 226.12 11 222.62 11.5 225.14 12 230.01 12.5 225.65 13 224.94 13.5 227.82 14 226.86 14.5 223.72 15 221.83 15.5 227.14 16 226.43 16.5 225.33 17 225.75 17.5 226 18 226.28 18.5 232.92 19 227.49 19.5 224.86 20 225.59 20.5 227.23 21 227.31 21.5 226.25 22 226.93 22.5 225.15 23 228.31 23.5 226.98 24 224.54 24.5 226.08 25 226.73 25.5 225.65 26 226.19 26.5 225.77 27 227.28 27.5 226.94 28 225.21 28.5 225.79 29 226.09 29.5 225.41 30 226.13 30.5 226.26 31 228.02 31.5 227.77 32 225.41 32.5 224.99 33 227.28 33.5 225.86 34 226.66 34.5 222.72 35 224 35.5 229.36 36 224.35 36.5 225.62 37 224.91 37.5 225.11 38 224.85 38.5 224.26 39 222.89 39.5 225.47 40 223.56 40.5 225.71 41 224.39 41.5 223.73 42 224.51 42.5 223.6 43 224.05 43.5 225.84 44 225.91 44.5 223.13 45 223.63 45.5 228.59 46 221.35 46.5 220.96 47 220.42 47.5 221.79 48 224.5 48.5 223.45 49 218.55 49.5 223.32 50 224.9 50.5 226.47 51 222.55 51.5 220.98 52 222.73 52.5 222.06 53 222.95 53.5 221.5 54 219.53 54.5 221.35 55 219.8 55.5 221.93 56 215.76 56.5 222.89 57 223.75 57.5 223.32 58 224.27 58.5 222.17 59 225.21 59.5 223.4 60 227.85 60.5 218.57 61 225.17 61.5 223.33 62 222.3 62.5 223.85 63 223.22 63.5 222.56 64 222.43 64.5 223.75 65 222.53 65.5 223.06 66 223.34 66.5 220.62 67 222.75 67.5 224.77 68 225.52 68.5 221.46 69 225.01 69.5 228.62 70 226.14 70.5 224.37 71 225.75 71.5 223.81 72 223.24 72.5 225.61 73 224 73.5 226.29 74 223.12 74.5 223.07 75 225.12 75.5 226.82 76 225.15 76.5 225.36 77 225.91 77.5 222.76 78 223.16 78.5 217.17 79 219.5 79.5 226.17 80 225.98 80.5 225.43 81 224.07 81.5 224.92 82 225.63 82.5 226.8 83 225.79 83.5 224.86 84 226.32 84.5 220.74 85 226.81 85.5 227.48 86 225.68 86.5 228.66 87 228.05 87.5 228.44 88 227.29 88.5 225.84 89 228.88 89.5 227.8 90 228.96 90.5 227.1 91 233.45 91.5 227.58 92 230.03 92.5 229.86 93 229.96 93.5 227.82 94 228.95 94.5 228.61 95 229.29 95.5 228.56 96 226.68 96.5 228.44 97 225.09 97.5 228.9 98 227.5 98.5 230.81 99 234.21 99.5 230.16 100 231.99 100.5 230.71 101 229.01 101.5 224.05 102 231.17 102.5 230.63 103 229.13 103.5 227.75 104 233.8 104.5 229.93 105 230.24 105.5 231.36 106 229.47 106.5 230.59 107 230.9 107.5 229.73 108 230.01 108.5 231.32 109 231.04 109.5 230.66 110 228.7 110.5 228.53 111 231 111.5 225.58 112 231.72 112.5 231.58 113 229.22 113.5 227.13 114 230.47 114.5 232.27 115 229.55 115.5 228.5 116 232.07 116.5 230.88 117 228.65 117.5 231.69 118 237.65 118.5 231.05 119 230.54 119.5 230.52 120 231.59 120.5 232.08 121 231.49 121.5 231.72 122 231.67 122.5 231.55 123 231.43 123.5 234.14 124 229.17 124.5 229.55 125 230.49 125.5 232.66 126 230.93 126.5 225.61 127 229.87 127.5 231.98 128 229.9 128.5 230.13 129 231.17 129.5 229.8 130 230.9 130.5 225.5 131 229.45 131.5 229.62 132 232.11 132.5 229.83 133 232 133.5 231.24 134 230.11 134.5 230.87 135 230.42 135.5 231.26 136 230.24 136.5 230.4 137 230.03 137.5 231.02 138 229.34 138.5 230.9 139 230.96 139.5 229.42 140 228.74 140.5 230.31 141 230.29 141.5 228.37 142 229.25 142.5 228.88 143 230.61 143.5 229.19 144 229.59 144.5 226.79 145 228.37 145.5 228.13 146 225.52 146.5 227.51 147 227.71 147.5 226.09 148 227.05 148.5 227.74 149 228.42 149.5 227.79 150 227.42 150.5 227.15 151 226.13 151.5 227.3 152 225.72 152.5 226.01 153 227.96 153.5 225.49 154 226.95 154.5 226.79 155 226.5 155.5 225.77 156 225.15 156.5 226.39 157 227.61 157.5 225.51 158 223.87 158.5 224.38 159 226.99 159.5 224.99 160 223.77 160.5 226.28 161 224.4 161.5 224.46 162 225.95 162.5 224.76 163 225.78 163.5 223.6 164 225.16 164.5 224.77 165 222.8 165.5 225.04 166 225.86 166.5 225.39 167 224.06 167.5 225.46 168 223.29 168.5 221.52 169 222.82 169.5 223.12 170 220.65 170.5 224.33 171 224.54 171.5 223.25 172 224.78 172.5 221.81 173 223.25 173.5 221 174 222.46 174.5 223.39 175 221.63 175.5 223.51 176 220.41 176.5 223.73 177 221.58 177.5 222.39 178 220.75 178.5 221.7 179 218.18 179.5 222.17 180 222.98 180.5 222.69 181 222.07 181.5 221.78 182 220.87 182.5 216.43 183 220.24 183.5 220.16 184 220.66 184.5 219.12 185 222.4 185.5 223.03 186 220.83 186.5 222.31 187 220.37 187.5 220.36 188 219.72 188.5 220.78 189 221.95 189.5 223.56 190 221.13 190.5 223.99 191 222.41 191.5 222.53 192 220.7 192.5 222.31 193 220.55 193.5 223.26 194 220.23 194.5 220.37 195 220.45 195.5 221.81 196 222.21 196.5 222.28 197 222.35 197.5 223 198 220.46 198.5 216.46 199 221.39 199.5 223.74 200 223.15 200.5 221.33 201 222.01 201.5 222.05 202 222.77 202.5 222.19 203 221.43 203.5 221.59 204 223.57 204.5 222.74 205 222.82 205.5 223.23 206 218.74 206.5 224.39 207 224.95 207.5 225.68 208 223.38 208.5 224.61 209 225.48 209.5 224.43 210 226.2 210.5 224.69 211 225.72 211.5 225.07 212 229.95 212.5 226.79 213 226.74 213.5 226.1 214 226.95 214.5 225.16 215 226.96 215.5 226.47 216 232.94 216.5 226.78 217 229.76 217.5 227.11 218 228.05 218.5 226.99 219 229.18 219.5 228.67 220 229.55 220.5 228.21 221 223.72 221.5 222.58 222 217.57 222.5 226.33 223 228.62 223.5 235.9 224 239.53 224.5 233.16 225 234.67 225.5 231.2 226 229.94 226.5 230.58 227 229.89 227.5 233.31 228 231.96 228.5 231.87 229 230.43 229.5 232.98 230 231.27 230.5 230.83 231 231.92 231.5 230.26 232 231.84 232.5 232.21 233 231.61 233.5 233.04 234 230.79 234.5 234.96 235 232.84 235.5 231.5 236 232.41 236.5 233.88 237 232.61 237.5 230.78 238 232.76 238.5 234.08 239 230.38 239.5 231.49 240 234.46 240.5 231.18 241 229.91 241.5 233 242 231.6 242.5 234.59 243 232.4 243.5 230.93 244 232.48 244.5 233.82 245 230.35 245.5 232.12 246 234.44 246.5 234.08 247 233.62 247.5 234.3 248 231.09 248.5 232.8 249 231.17 249.5 232.89 250 233.49 250.5 233.31 251 232.63 251.5 230.83 252 231.39 252.5 232.73 253 232.11 253.5 231.35 254 231.87 254.5 231.54 255 233.24 255.5 233.29 256 233.63 256.5 232.7 257 234.27 257.5 231.04 258 229.78 258.5 232.25 259 234.92 259.5 231.24 260 234.08 260.5 229.84 261 233.18 261.5 232.22 262 230.78 262.5 233.34 263 233.26 263.5 231 264 231.99 264.5 231.41 265 231.91" fill="none" stroke="#4aaecb" stroke-width="1.4" stroke-linejoin="round" />
<path d="M4.5 222.47 5 221.41 5.5 221.22 6 220.73 6.5 228.66 7 223.09 7.5 221.27 8 221.64 8.5 216.35 9 229.85 9.5 221.9 10 221.95 10.5 223.92 11 222.83 11.5 221.73 12 222.08 12.5 219.79 13 219.51 13.5 220.39 14 220.97 14.5 221.39 15 220.83 15.5 222 16 221.27 16.5 221.46 17 221.65 17.5 223.47 18 222.67 18.5 220.99 19 221.24 19.5 215.81 20 219.98 20.5 220.28 21 221.77 21.5 222.22 22 222.69 22.5 221.44 23 222.24 23.5 222.71 24 221.74 24.5 221.59 25 220.32 25.5 221.47 26 223.06 26.5 223.81 27 222.85 27.5 223.31 28 219.72 28.5 222.02 29 222.48 29.5 225.53 30 221.35 30.5 224.28 31 222.43 31.5 223.48 32 221.76 32.5 221.74 33 225.53 33.5 223.72 34 224.26 34.5 220.54 35 221.92 35.5 224.1 36 225.24 36.5 222.87 37 223.46 37.5 223.83 38 221.21 38.5 221.67 39 222.27 39.5 222.93 40 222.99 40.5 223.3 41 223.92 41.5 222.81 42 222.98 42.5 222.54 43 223.56 43.5 226.25 44 225.29 44.5 224.91 45 227.23 45.5 225.79 46 221.88 46.5 223.07 47 223.1 47.5 222.55 48 223.03 48.5 227 49 227.29 49.5 226.49 50 225.94 50.5 226.49 51 228.23 51.5 226.87 52 225.43 52.5 225.65 53 223.44 53.5 228.08 54 228.68 54.5 231.87 55 230.22 55.5 232.46 56 231.51 56.5 232.27 57 232.41 57.5 231.01 58 233.44 58.5 228.67 59 231.78 59.5 232.25 60 234.6 60.5 230.93 61 233.72 61.5 234.13 62 231.22 62.5 233.1 63 231.68 63.5 234.41 64 234.31 64.5 230.83 65 234.12 65.5 238.86 66 232.19 66.5 232.37 67 234.28 67.5 230.26 68 230.52 68.5 234.43 69 231.77 69.5 231.45 70 233.16 70.5 233.36 71 226.62 71.5 232.3 72 230.67 72.5 232.46 73 233.34 73.5 232.6 74 232.49 74.5 232.55 75 232.02 75.5 231.73 76 230.5 76.5 234.66 77 232.76 77.5 232.93 78 233.15 78.5 231.69 79 230.49 79.5 231.31 80 233.82 80.5 231.28 81 233.93 81.5 235.09 82 229.99 82.5 231.64 83 234.67 83.5 234.12 84 232.92 84.5 231.82 85 233.49 85.5 232.45 86 234.16 86.5 233.4 87 234.57 87.5 234.74 88 234.84 88.5 232.23 89 231.29 89.5 231.45 90 231.42 90.5 230.21 91 232.26 91.5 231.73 92 232.69 92.5 230.26 93 232.7 93.5 233.82 94 231.22 94.5 229.03 95 230.47 95.5 232.02 96 228.65 96.5 228.31 97 231.31 97.5 230.03 98 228.89 98.5 229.57 99 229.05 99.5 227.53 100 230.31 100.5 230.29 101 228.34 101.5 228.88 102 230.48 102.5 228.59 103 229.11 103.5 232.91 104 232.34 104.5 229.09 105 228.15 105.5 226.18 106 229.05 106.5 226.16 107 227.17 107.5 229.84 108 226.62 108.5 228.39 109 221.23 109.5 229.08 110 226.29 110.5 227.38 111 226.68 111.5 226.79 112 227.68 112.5 226.17 113 227.99 113.5 226.84 114 223.64 114.5 224.2 115 224.63 115.5 225.28 116 226.8 116.5 224.83 117 227.14 117.5 226.62 118 225.03 118.5 225.46 119 224.55 119.5 224.94 120 224.45 120.5 220.44 121 225.91 121.5 221.87 122 223.94 122.5 223.63 123 226.2 123.5 221.49 124 225.48 124.5 223.86 125 223.23 125.5 224.85 126 223.41 126.5 224.34 127 223.52 127.5 222.95 128 222.71 128.5 224.31 129 221.84 129.5 224.8 130 224.49 130.5 222.27 131 221.75 131.5 221.49 132 225.78 132.5 221.29 133 221.69 133.5 218.85 134 223.25 134.5 222.18 135 218.85 135.5 224.99 136 225.04 136.5 223.36 137 220.95 137.5 222.83 138 221.03 138.5 223.69 139 221 139.5 220.95 140 222.79 140.5 222.03 141 224.04 141.5 222.65 142 220.96 142.5 223.57 143 218.42 143.5 220.23 144 216.61 144.5 221.09 145 220.25 145.5 222.8 146 222.74 146.5 220.3 147 220.47 147.5 222.65 148 223.81 148.5 222.75 149 228.99 149.5 223.77 150 219.74 150.5 222.64 151 224.1 151.5 223.04 152 222.35 152.5 216.24 153 221.36 153.5 221.41 154 222.86 154.5 221.2 155 221.13 155.5 220.69 156 222.44 156.5 221.81 157 221.23 157.5 222.77 158 221.39 158.5 219.43 159 222.92 159.5 221.11 160 221.41 160.5 221.96 161 223.51 161.5 221.66 162 220.62 162.5 224.06 163 224.25 163.5 218.49 164 221.6 164.5 215.95 165 219.67 165.5 221.84 166 223.56 166.5 221.35 167 220.9 167.5 222.13 168 224.15 168.5 220.77 169 219.23 169.5 219.57 170 220.14 170.5 222.11 171 221.82 171.5 223.77 172 223.7 172.5 224.1 173 225.22 173.5 225.57 174 225.53 174.5 225.36 175 227.44 175.5 228.71 176 237.84 176.5 229.4 177 229.34 177.5 226.54 178 227.29 178.5 227.08 179 227.96 179.5 229.5 180 229.33 180.5 228.87 181 230.33 181.5 227.86 182 230 182.5 231.61 183 231.39 183.5 228.96 184 230.15 184.5 226.12 185 230.38 185.5 230.73 186 229.84 186.5 230.02 187 232.13 187.5 231.65 188 229.54 188.5 232.04 189 233.26 189.5 232.53 190 231.46 190.5 234.18 191 234.58 191.5 231.33 192 231.33 192.5 233.83 193 233.08 193.5 231.7 194 232.52 194.5 232.61 195 233.01 195.5 235.32 196 230.31 196.5 236.67 197 230.61 197.5 231.57 198 230.96 198.5 231.21 199 229.84 199.5 232.72 200 232.26 200.5 230.68 201 233.96 201.5 233.02 202 229.31 202.5 233.32 203 232.84 203.5 226.45 204 232.9 204.5 231.74 205 227.2 205.5 228.93 206 235.13 206.5 230.53 207 228.89 207.5 232.25 208 230.73 208.5 230.78 209 232.42 209.5 231.96 210 231.54 210.5 231.24 211 230.69 211.5 230.9 212 234.77 212.5 232.3 213 233.2 213.5 233.73 214 239.88 214.5 232.55 215 233.74 215.5 232.38 216 230.56 216.5 233.18 217 225.34 217.5 230.33 218 233.38 218.5 230.72 219 231.13 219.5 231.47 220 230.63 220.5 231.01 221 225.29 221.5 231.66 222 232.54 222.5 232.29 223 231.84 223.5 231.01 224 231.79 224.5 230.71 225 233.11 225.5 233.87 226 238.61 226.5 231.08 227 235.03 227.5 230.73 228 231.31 228.5 230.41 229 229.29 229.5 232.23 230 233.64 230.5 231.69 231 231.29 231.5 231.5 232 226.77 232.5 230.8 233 231.73 233.5 228.52 234 235.16 234.5 229.84 235 230 235.5 229.25 236 229.14 236.5 228.64 237 226.64 237.5 227.94 238 229.44 238.5 226.8 239 227.63 239.5 228.23 240 229.42 240.5 227.97 241 227.17 241.5 229.12 242 223.46 242.5 226.34 243 227.79 243.5 226.49 244 226.12 244.5 229.19 245 224.52 245.5 225.01 246 225.76 246.5 225.39 247 224.25 247.5 226.18 248 225.91 248.5 228.17 249 225.77 249.5 225.86 250 224.44 250.5 225.74 251 225.96 251.5 222.72 252 225.46 252.5 225.99 253 224.29 253.5 225.23 254 225.94 254.5 224.84 255 224.62 255.5 223.32 256 224.18 256.5 224.93 257 222.01 257.5 221.55 258 225.76 258.5 223.65 259 224.58 259.5 228.5 260 222.84 260.5 222.72 261 222.1 261.5 223.55 262 223.8 262.5 223.38 263 222.05 263.5 222.97 264 224.48 264.5 223.33 265 223.74" fill="none" stroke="#1c63a8" stroke-width="1.4" stroke-linejoin="round" />
<path d="M4.5 226.79 5 225.36 5.5 229.02 6 228.29 6.5 224.29 7 229.37 7.5 230.7 8 225.75 8.5 228.3 9 225.85 9.5 227.26 10 228.75 10.5 228.13 11 228.62 11.5 227.76 12 228.81 12.5 227.74 13 228.76 13.5 230.26 14 227.98 14.5 228 15 226.97 15.5 228.21 16 229.77 16.5 229.99 17 229.51 17.5 230.77 18 230.21 18.5 228.53 19 229.85 19.5 227.33 20 229.81 20.5 231.3 21 230.95 21.5 229.85 22 230.63 22.5 230.14 23 232.86 23.5 229.05 24 229.59 24.5 238.63 25 230 25.5 232.38 26 231.62 26.5 232.58 27 231.58 27.5 231.68 28 231.57 28.5 232.57 29 231.33 29.5 231.19 30 230.71 30.5 232.54 31 232.8 31.5 230.77 32 231.07 32.5 230.82 33 230.04 33.5 230.03 34 231.84 34.5 232.49 35 231.11 35.5 231.2 36 230.47 36.5 232.87 37 231.52 37.5 232.02 38 229.8 38.5 230.29 39 232.24 39.5 232.38 40 231.74 40.5 231.52 41 231.54 41.5 231.22 42 231.64 42.5 232 43 231.41 43.5 230.93 44 231.49 44.5 231.73 45 235.54 45.5 236.2 46 238.24 46.5 234.03 47 236.22 47.5 230.74 48 228.51 48.5 230.4 49 222.29 49.5 228.51 50 232.09 50.5 232.2 51 241.05 51.5 234.85 52 235.05 52.5 230.1 53 231.72 53.5 229.55 54 228.26 54.5 228.74 55 230.27 55.5 230.66 56 229.65 56.5 225.6 57 231.34 57.5 229.58 58 230.93 58.5 227.95 59 236.96 59.5 232.2 60 233.45 60.5 230.22 61 233.71 61.5 228.65 62 227.31 62.5 227.94 63 228.19 63.5 226.12 64 228.32 64.5 227.11 65 227.36 65.5 228.77 66 227.97 66.5 226.72 67 226.46 67.5 224.32 68 227.69 68.5 226.28 69 225.08 69.5 229.22 70 225.72 70.5 228.05 71 226.43 71.5 226.97 72 226.44 72.5 225.72 73 224.08 73.5 224.76 74 224.29 74.5 226.76 75 226.44 75.5 225.93 76 225.56 76.5 224.72 77 225.44 77.5 225.04 78 223.74 78.5 224.55 79 224.44 79.5 220.49 80 224.87 80.5 223.67 81 223.58 81.5 226.42 82 223.65 82.5 223.59 83 223.82 83.5 221.74 84 222.46 84.5 223.78 85 223.27 85.5 222.64 86 222.27 86.5 225.29 87 223.14 87.5 222.54 88 220.93 88.5 221.88 89 221.14 89.5 222.68 90 221.93 90.5 220.88 91 221.11 91.5 222.26 92 222.94 92.5 220.25 93 220.85 93.5 222.41 94 220.85 94.5 220.01 95 223.37 95.5 221.69 96 220.41 96.5 222.06 97 223.37 97.5 221.4 98 220.59 98.5 221.57 99 223.44 99.5 223.59 100 221.92 100.5 221.34 101 221.56 101.5 222.59 102 221.24 102.5 220.15 103 221.58 103.5 225.66 104 221.02 104.5 218.81 105 220.24 105.5 222.4 106 221.96 106.5 222.07 107 220.49 107.5 221.28 108 221.51 108.5 222.21 109 222.47 109.5 221.67 110 222.46 110.5 222.3 111 219.92 111.5 221.77 112 221.65 112.5 222.42 113 223.84 113.5 222.69 114 221.55 114.5 220.15 115 223.05 115.5 223.18 116 222.34 116.5 224.3 117 225.08 117.5 220.62 118 223.7 118.5 223.4 119 223.97 119.5 224.89 120 221.57 120.5 218.12 121 223.08 121.5 221.55 122 218.57 122.5 221.63 123 220.23 123.5 224.3 124 222.86 124.5 223.82 125 224.16 125.5 226.37 126 221.59 126.5 224.66 127 229.65 127.5 225.26 128 225.7 128.5 224.85 129 224.62 129.5 226.95 130 224.04 130.5 225.8 131 228.07 131.5 224.53 132 226.68 132.5 226.82 133 225.59 133.5 226.34 134 226.43 134.5 225.02 135 229 135.5 225.14 136 229.36 136.5 227.65 137 229.13 137.5 227.92 138 228.41 138.5 230.97 139 228.83 139.5 226.07 140 230.16 140.5 228.55 141 227.33 141.5 227.47 142 228.01 142.5 230.73 143 229.86 143.5 230.75 144 228.56 144.5 226.09 145 228.67 145.5 229.27 146 230.34 146.5 230.49 147 229.71 147.5 230.03 148 230.7 148.5 229.61 149 228.06 149.5 231.51 150 229.14 150.5 231.94 151 229.24 151.5 232.27 152 230.58 152.5 231.84 153 229.42 153.5 232.4 154 231.65 154.5 231.62 155 231.35 155.5 232.6 156 230.34 156.5 230.03 157 229.67 157.5 232.47 158 231.35 158.5 231.34 159 232.01 159.5 230.35 160 231.09 160.5 226.91 161 231.09 161.5 233.07 162 232.05 162.5 231.03 163 232.26 163.5 232.28 164 236.26 164.5 236.16 165 240.06 165.5 235.33 166 236.94 166.5 232.28 167 232.37 167.5 230.76 168 230.95 168.5 230.93 169 231.48 169.5 232.21 170 229.27 170.5 233.25 171 230.46 171.5 234.6 172 231.85 172.5 230.39 173 230.06 173.5 231.09 174 230.24 174.5 230.16 175 231.19 175.5 230.07 176 228.45 176.5 229.59 177 234.82 177.5 232.41 178 239.77 178.5 231.62 179 235.73 179.5 232.89 180 237.9 180.5 232.52 181 233.93 181.5 228.59 182 228.17 182.5 230.31 183 228.77 183.5 229.23 184 228.75 184.5 227.73 185 227.93 185.5 227.28 186 227.53 186.5 227.5 187 227.41 187.5 229.83 188 228.72 188.5 229.02 189 229.57 189.5 228.11 190 229.73 190.5 228.39 191 226.54 191.5 226.21 192 225.29 192.5 227.19 193 226.42 193.5 228.07 194 229.03 194.5 225.32 195 229.14 195.5 226.94 196 227.78 196.5 227.11 197 226.46 197.5 227.77 198 227.31 198.5 225.94 199 226.57 199.5 227.03 200 225.32 200.5 224.22 201 226.38 201.5 224.44 202 225.08 202.5 224.47 203 225.43 203.5 222.29 204 225.05 204.5 223.51 205 224.19 205.5 226.2 206 223.69 206.5 223.19 207 224.38 207.5 225.43 208 222.89 208.5 224.94 209 224.72 209.5 224.6 210 222.88 210.5 223.25 211 223.76 211.5 221.03 212 220.51 212.5 223.27 213 223.23 213.5 224.32 214 223.29 214.5 222.2 215 222.19 215.5 223.65 216 228.05 216.5 223.96 217 216.83 217.5 221.29 218 224.64 218.5 224.51 219 223.26 219.5 221.2 220 223.75 220.5 223.38 221 222.36 221.5 224.28 222 221.26 222.5 221.7 223 222.66 223.5 221.35 224 223.07 224.5 221.41 225 222.14 225.5 222.65 226 220.75 226.5 221.49 227 222.55 227.5 223.29 228 223.35 228.5 222.2 229 220.37 229.5 220.55 230 222.96 230.5 220.85 231 223.29 231.5 223.23 232 220.23 232.5 220.7 233 223.13 233.5 223.73 234 223.27 234.5 221.57 235 222.41 235.5 222.39 236 221.68 236.5 222.37 237 224.43 237.5 222.3 238 222.95 238.5 221.96 239 219.91 239.5 219.84 240 218.69 240.5 224.73 241 218.63 241.5 221.4 242 223.31 242.5 223.12 243 223.24 243.5 222.78 244 222.77 244.5 221.21 245 220.83 245.5 221.71 246 223.05 246.5 217.74 247 222.73 247.5 222.96 248 223.43 248.5 221.84 249 220.54 249.5 222.63 250 215.66 250.5 222.65 251 222.05 251.5 221.21 252 222.05 252.5 222.27 253 224.07 253.5 223.76 254 222.7 254.5 222.25 255 221.6 255.5 217.69 256 222.5 256.5 224.16 257 224.35 257.5 227.38 258 224.02 258.5 225.27 259 226.05 259.5 224.36 260 222.16 260.5 224.99 261 225.06 261.5 225.8 262 224.01 262.5 224.91 263 226.61 263.5 223.72 264 225.51 264.5 223.29 265 225.59" fill="none" stroke="#b846f2" stroke-width="1.4" stroke-linejoin="round" />
</g>
<path d="M30.57 157.6v3M30.57 297.3v-3M56.64 157.6v3M56.64 297.3v-3M82.71 157.6v3M82.71 297.3v-3M108.78 157.6v3M108.78 297.3v-3M134.85 157.6v3M134.85 297.3v-3M160.92 157.6v3M160.92 297.3v-3M186.99 157.6v3M186.99 297.3v-3M213.06 157.6v3M213.06 297.3v-3M239.13 157.6v3M239.13 297.3v-3M4.5 171.57h3M265.2 171.57h-3M4.5 185.54h3M265.2 185.54h-3M4.5 199.51h3M265.2 199.51h-3M4.5 213.48h3M265.2 213.48h-3M4.5 227.45h3M265.2 227.45h-3M4.5 241.42h3M265.2 241.42h-3M4.5 255.39h3M265.2 255.39h-3M4.5 269.36h3M265.2 269.36h-3M4.5 283.33h3M265.2 283.33h-3" class="t"/>
<rect x="4.5" y="157.6" width="260.7" height="139.7" class="f"/>
<text x="26.9" y="175.6" font-size="12.7">ave (abs(<tspan class="i">e</tspan><tspan class="i" font-size="8" dy="1.3">voa</tspan><tspan dy="-1.3">)+abs(</tspan><tspan class="i">e</tspan><tspan class="i" font-size="8" dy="1.3">vob</tspan><tspan dy="-1.3">)+abs(</tspan><tspan class="i">e</tspan><tspan class="i" font-size="8" dy="1.3">voc</tspan><tspan dy="-1.3">)) = 4.1 V</tspan></text>
<text x="16.2" y="206.8" class="i" font-size="12.5">e<tspan font-size="8.4" dy="2.1">voa</tspan></text>
<text x="44.5" y="206.8" class="i" font-size="12.5">e<tspan font-size="8.4" dy="2.1">vob</tspan></text>
<text x="90" y="206.8" class="i" font-size="12.5">e<tspan font-size="8.4" dy="2.1">voc</tspan></text>
<text x="39.6" y="279.7" font-size="12.5">10 V/div</text>
<text x="176.3" y="274.7" font-size="12.6">4 ms/div</text>
<path d="M33.4 271V281" stroke="#111" stroke-width="1"/>
<path d="M31.1 273.8L33.4 269.5L35.7 273.8Z M31.1 278.3L33.4 282.6L35.7 278.3Z" fill="#111"/>
<path d="M190.3 278.5H209.7" stroke="#111" stroke-width="1.3"/>
<path d="M187.3 278.5L192.3 276.0L192.3 281.0Z M212.7 278.5L207.7 276.0L207.7 281.0Z" fill="#111"/>
<line x1="309.73" y1="3.4" x2="309.73" y2="142.4" class="g"/>
<line x1="335.66" y1="3.4" x2="335.66" y2="142.4" class="g"/>
<line x1="361.59" y1="3.4" x2="361.59" y2="142.4" class="g"/>
<line x1="387.52" y1="3.4" x2="387.52" y2="142.4" class="g"/>
<line x1="413.45" y1="3.4" x2="413.45" y2="142.4" class="g"/>
<line x1="439.38" y1="3.4" x2="439.38" y2="142.4" class="g"/>
<line x1="465.31" y1="3.4" x2="465.31" y2="142.4" class="g"/>
<line x1="491.24" y1="3.4" x2="491.24" y2="142.4" class="g"/>
<line x1="517.17" y1="3.4" x2="517.17" y2="142.4" class="g"/>
<line x1="283.8" y1="17.3" x2="543.1" y2="17.3" class="g"/>
<line x1="283.8" y1="31.2" x2="543.1" y2="31.2" class="g"/>
<line x1="283.8" y1="45.1" x2="543.1" y2="45.1" class="g"/>
<line x1="283.8" y1="59" x2="543.1" y2="59" class="g"/>
<line x1="283.8" y1="72.9" x2="543.1" y2="72.9" class="g"/>
<line x1="283.8" y1="86.8" x2="543.1" y2="86.8" class="g"/>
<line x1="283.8" y1="100.7" x2="543.1" y2="100.7" class="g"/>
<line x1="283.8" y1="114.6" x2="543.1" y2="114.6" class="g"/>
<line x1="283.8" y1="128.5" x2="543.1" y2="128.5" class="g"/>
<clipPath id="ct1"><rect x="283.8" y="3.4" width="259.3" height="139.0"/></clipPath>
<g clip-path="url(#ct1)">
<path d="M283.8 60.52 284.3 59.43 284.8 57.72 285.3 56.66 285.8 56.1 286.3 54.95 286.8 53.83 287.3 52.5 287.8 51.64 288.3 50.57 288.8 49.49 289.3 48.14 289.8 47.28 290.3 46.21 290.8 45.41 291.3 44.57 291.8 43.52 292.3 42.23 292.8 41.16 293.3 40.04 293.8 38.9 294.3 37.93 294.8 37.28 295.3 36.24 295.8 35.35 296.3 34.8 296.8 33.64 297.3 32.78 297.8 31.68 298.3 30.68 298.8 30.05 299.3 29.1 299.8 28.56 300.3 28.12 300.8 27.12 301.3 26.03 301.8 25.8 302.3 25.02 302.8 24.29 303.3 23.74 303.8 23 304.3 22.39 304.8 21.48 305.3 21.34 305.8 20.76 306.3 19.66 306.8 19.57 307.3 19.05 307.8 18.4 308.3 18.01 308.8 17.56 309.3 17.47 309.8 16.8 310.3 16.69 310.8 16.03 311.3 16.11 311.8 15.85 312.3 15.3 312.8 15.16 313.3 15.21 313.8 14.91 314.3 14.6 314.8 14.3 315.3 14.28 315.8 14.48 316.3 14.08 316.8 14.59 317.3 14.16 317.8 14.65 318.3 14.3 318.8 14.85 319.3 14.79 319.8 14.8 320.3 14.98 320.8 15.28 321.3 15.46 321.8 15.52 322.3 15.72 322.8 16.24 323.3 16.86 323.8 17 324.3 16.99 324.8 17.91 325.3 18.27 325.8 18.85 326.3 18.83 326.8 19.71 327.3 19.75 327.8 20.71 328.3 21.01 328.8 21.57 329.3 22.63 329.8 22.73 330.3 23.67 330.8 24.58 331.3 24.85 331.8 25.54 332.3 26.74 332.8 27.18 333.3 28.15 333.8 28.46 334.3 29.5 334.8 30.2 335.3 31.39 335.8 31.83 336.3 33.32 336.8 33.56 337.3 34.96 337.8 35.38 338.3 36.48 338.8 37.81 339.3 38.31 339.8 39.3 340.3 40.64 340.8 41.41 341.3 42.18 341.8 43.85 342.3 44.29 342.8 45.24 343.3 46.49 343.8 47.73 344.3 48.87 344.8 49.48 345.3 50.7 345.8 51.56 346.3 52.92 346.8 54.22 347.3 55.28 347.8 56.47 348.3 57.45 348.8 58.61 349.3 59.59 349.8 60.51 350.3 61.42 350.8 62.8 351.3 63.64 351.8 64.56 352.3 65.88 352.8 67.24 353.3 67.78 353.8 69.16 354.3 70.08 354.8 71.21 355.3 71.99 355.8 73.59 356.3 74.12 356.8 75.38 357.3 76.25 357.8 76.96 358.3 78.32 358.8 79 359.3 79.9 359.8 80.83 360.3 81.85 360.8 82.72 361.3 84 361.8 84.8 362.3 86.01 362.8 86.84 363.3 87.72 363.8 88.01 364.3 88.97 364.8 89.62 365.3 90.63 365.8 91.41 366.3 92.27 366.8 92.92 367.3 93.3 367.8 94.09 368.3 94.81 368.8 95.08 369.3 95.71 369.8 96.56 370.3 96.92 370.8 97.9 371.3 98.08 371.8 98.48 372.3 99.01 372.8 99.5 373.3 99.91 373.8 100.53 374.3 100.87 374.8 101.11 375.3 101.67 375.8 101.67 376.3 102.44 376.8 102.73 377.3 102.79 377.8 102.78 378.3 103.01 378.8 103.21 379.3 102.96 379.8 103.31 380.3 103.46 380.8 103.26 381.3 103.22 381.8 103.7 382.3 103.36 382.8 103.41 383.3 103.6 383.8 103.27 384.3 102.9 384.8 103.22 385.3 102.6 385.8 102.14 386.3 102.36 386.8 101.68 387.3 101.53 387.8 101.58 388.3 101.12 388.8 100.29 389.3 100.2 389.8 99.75 390.3 99.36 390.8 98.7 391.3 98.47 391.8 97.6 392.3 97.21 392.8 96.71 393.3 96.52 393.8 95.32 394.3 95.17 394.8 94.13 395.3 93.72 395.8 92.91 396.3 92.25 396.8 91.72 397.3 90.73 397.8 89.77 398.3 88.98 398.8 88.15 399.3 87.87 399.8 86.88 400.3 86.25 400.8 85.2 401.3 83.84 401.8 83.39 402.3 82.56 402.8 81.59 403.3 80.49 403.8 79.44 404.3 78.54 404.8 77.8 405.3 76.44 405.8 75.62 406.3 74.58 406.8 73.89 407.3 72.76 407.8 71.81 408.3 70.7 408.8 69.28 409.3 68.18 409.8 67.29 410.3 66.07 410.8 65.11 411.3 64.22 411.8 63.31 412.3 61.99 412.8 61.07 413.3 59.48 413.8 58.58 414.3 57.95 414.8 56.27 415.3 55.38 415.8 54.05 416.3 52.99 416.8 52.48 417.3 51.48 417.8 50.18 418.3 48.75 418.8 47.82 419.3 46.72 419.8 45.99 420.3 44.97 420.8 43.77 421.3 42.82 421.8 41.52 422.3 40.83 422.8 40.13 423.3 39.02 423.8 37.6 424.3 36.94 424.8 36.14 425.3 34.9 425.8 34.44 426.3 33.24 426.8 32.53 427.3 31.46 427.8 31.02 428.3 30.04 428.8 29.08 429.3 27.99 429.8 27.42 430.3 26.37 430.8 26.03 431.3 25.51 431.8 24.31 432.3 23.86 432.8 23.19 433.3 22.49 433.8 22.09 434.3 21.65 434.8 20.92 435.3 20.2 435.8 20.02 436.3 19.07 436.8 18.88 437.3 18.36 437.8 18 438.3 17.65 438.8 16.83 439.3 16.75 439.8 16.26 440.3 16.13 440.8 16.06 441.3 15.56 441.8 14.89 442.3 15 442.8 14.99 443.3 14.96 443.8 14.67 444.3 14.68 444.8 14.04 445.3 14.64 445.8 14.46 446.3 14.38 446.8 14.62 447.3 14.65 447.8 14.19 448.3 14.79 448.8 14.89 449.3 14.65 449.8 15.22 450.3 15.32 450.8 15.28 451.3 15.97 451.8 15.79 452.3 16.44 452.8 16.65 453.3 16.89 453.8 17.49 454.3 17.83 454.8 18.09 455.3 19.08 455.8 18.94 456.3 19.4 456.8 20.27 457.3 21.06 457.8 21.51 458.3 22.18 458.8 22.61 459.3 23.38 459.8 23.81 460.3 24.44 460.8 25.31 461.3 25.7 461.8 26.48 462.3 27.71 462.8 28.09 463.3 29.29 463.8 30.13 464.3 30.69 464.8 31.73 465.3 32.68 465.8 33.61 466.3 34 466.8 34.93 467.3 36 467.8 37 468.3 37.83 468.8 38.59 469.3 39.95 469.8 41.23 470.3 41.8 470.8 42.93 471.3 43.84 471.8 44.9 472.3 46.24 472.8 46.88 473.3 48.17 473.8 49.11 474.3 50.21 474.8 51.53 475.3 52.02 475.8 53.61 476.3 54.33 476.8 55.65 477.3 56.83 477.8 57.82 478.3 58.72 478.8 60.11 479.3 60.67 479.8 62.13 480.3 63.04 480.8 64.22 481.3 65.52 481.8 66.55 482.3 67.5 482.8 68.34 483.3 69.34 483.8 70.54 484.3 71.43 484.8 72.5 485.3 74 485.8 74.42 486.3 75.93 486.8 76.62 487.3 77.6 487.8 78.54 488.3 79.34 488.8 80.56 489.3 81.29 489.8 82.41 490.3 83.22 490.8 84.54 491.3 85.45 491.8 85.98 492.3 86.97 492.8 88.01 493.3 88.4 493.8 89.05 494.3 89.93 494.8 90.66 495.3 91.75 495.8 92.26 496.3 92.95 496.8 93.95 497.3 94.22 497.8 95.27 498.3 95.77 498.8 96.21 499.3 97.08 499.8 97.31 500.3 98.22 500.8 98.76 501.3 98.95 501.8 99.55 502.3 100.17 502.8 100.44 503.3 100.84 503.8 101.29 504.3 101.68 504.8 101.87 505.3 102.32 505.8 102.11 506.3 102.58 506.8 102.83 507.3 102.81 507.8 102.99 508.3 102.98 508.8 103.64 509.3 103.3 509.8 103.44 510.3 103.77 510.8 103.28 511.3 103.8 511.8 103.17 512.3 103.03 512.8 103.16 513.3 103.04 513.8 103.28 514.3 103.08 514.8 102.79 515.3 102.33 515.8 102.15 516.3 101.66 516.8 101.77 517.3 101.13 517.8 100.7 518.3 100.57 518.8 99.82 519.3 99.51 519.8 99.49 520.3 98.43 520.8 97.96 521.3 97.48 521.8 96.97 522.3 96.52 522.8 95.8 523.3 95.26 523.8 94.55 524.3 93.89 524.8 93.48 525.3 92.59 525.8 91.9 526.3 91.44 526.8 90.19 527.3 89.47 527.8 89.17 528.3 88.07 528.8 87.49 529.3 86.19 529.8 85.6 530.3 84.95 530.8 83.71 531.3 83.1 531.8 82.07 532.3 80.99 532.8 80.46 533.3 79.08 533.8 78.16 534.3 77.28 534.8 76.08 535.3 75.44 535.8 74.26 536.3 73.23 536.8 72.16 537.3 71.44 537.8 70.39 538.3 69.24 538.8 67.91 539.3 66.81 539.8 65.82 540.3 64.42 540.8 63.38 541.3 62.93 541.8 61.24 542.3 60.72 542.8 59.46" fill="none" stroke="#1c63a8" stroke-width="1.45" stroke-linejoin="round" />
<path d="M283.8 97.15 284.3 97.12 284.8 97.81 285.3 98.67 285.8 98.61 286.3 99.14 286.8 99.75 287.3 100.05 287.8 100.42 288.3 101.15 288.8 101.09 289.3 102.02 289.8 102.09 290.3 101.94 290.8 102.77 291.3 102.53 291.8 102.89 292.3 103.11 292.8 102.95 293.3 103.32 293.8 103.09 294.3 103.25 294.8 103.79 295.3 103.72 295.8 103.5 296.3 103.56 296.8 103.62 297.3 103.01 297.8 103.13 298.3 102.73 298.8 102.54 299.3 102.33 299.8 102.18 300.3 101.81 300.8 101.64 301.3 101.45 301.8 101.29 302.3 101.1 302.8 100.76 303.3 100.22 303.8 99.64 304.3 99.48 304.8 98.47 305.3 97.93 305.8 97.91 306.3 97.23 306.8 96.37 307.3 95.89 307.8 95.22 308.3 94.68 308.8 94.03 309.3 93.33 309.8 92.91 310.3 92.2 310.8 91.29 311.3 90.48 311.8 89.57 312.3 89.11 312.8 88.46 313.3 87.1 313.8 86.59 314.3 85.73 314.8 84.82 315.3 83.49 315.8 82.95 316.3 81.78 316.8 80.85 317.3 80.17 317.8 79.25 318.3 78.27 318.8 77.37 319.3 76.35 319.8 75.18 320.3 73.87 320.8 73.36 321.3 72.36 321.8 71.33 322.3 70.12 322.8 68.67 323.3 67.73 323.8 66.6 324.3 65.9 324.8 64.77 325.3 63.44 325.8 62.9 326.3 61.83 326.8 60.7 327.3 59.31 327.8 58.1 328.3 56.96 328.8 56.31 329.3 55.14 329.8 53.77 330.3 53.13 330.8 51.83 331.3 50.65 331.8 49.59 332.3 48.75 332.8 47.51 333.3 46.61 333.8 45.19 334.3 44.57 334.8 43.25 335.3 42.68 335.8 41.2 336.3 40.29 336.8 39.45 337.3 38.38 337.8 37.52 338.3 36.85 338.8 35.41 339.3 34.9 339.8 33.94 340.3 33.11 340.8 32 341.3 31.15 341.8 30.23 342.3 29.5 342.8 28.54 343.3 27.71 343.8 27.14 344.3 26.19 344.8 25.65 345.3 25.01 345.8 24.13 346.3 23.36 346.8 23.01 347.3 22.56 347.8 21.51 348.3 21.19 348.8 20.66 349.3 20.28 349.8 19.62 350.3 18.86 350.8 18.32 351.3 18.31 351.8 17.51 352.3 16.91 352.8 17.13 353.3 16.31 353.8 16.07 354.3 15.77 354.8 15.45 355.3 15.53 355.8 15.04 356.3 14.91 356.8 14.72 357.3 14.87 357.8 14.18 358.3 14.48 358.8 14.1 359.3 14.07 359.8 14.37 360.3 14.22 360.8 14.05 361.3 14.48 361.8 14.8 362.3 14.72 362.8 14.76 363.3 15.14 363.8 15.42 364.3 15.11 364.8 15.46 365.3 16.19 365.8 16.46 366.3 16.28 366.8 16.98 367.3 17.47 367.8 17.67 368.3 18.17 368.8 18.49 369.3 18.76 369.8 19.24 370.3 19.65 370.8 20.61 371.3 20.8 371.8 21.73 372.3 22.17 372.8 22.83 373.3 23.85 373.8 24.12 374.3 24.87 374.8 25.51 375.3 26.13 375.8 26.88 376.3 27.87 376.8 28.85 377.3 29.15 377.8 30.57 378.3 31.22 378.8 31.64 379.3 32.97 379.8 33.64 380.3 34.62 380.8 35.25 381.3 36.47 381.8 37.42 382.3 38.56 382.8 39.38 383.3 40.45 383.8 41.46 384.3 42.1 384.8 42.97 385.3 44.31 385.8 45.1 386.3 46.14 386.8 47.31 387.3 48.51 387.8 49.62 388.3 50.71 388.8 51.98 389.3 52.46 389.8 53.86 390.3 54.61 390.8 56.1 391.3 57.01 391.8 57.89 392.3 59.09 392.8 60.42 393.3 61.37 393.8 62.78 394.3 63.45 394.8 64.52 395.3 66 395.8 66.84 396.3 67.56 396.8 69.09 397.3 69.85 397.8 71.31 398.3 72.13 398.8 73.28 399.3 74.36 399.8 75.11 400.3 76.43 400.8 76.77 401.3 77.97 401.8 79.29 402.3 79.67 402.8 81.09 403.3 82.25 403.8 82.97 404.3 83.98 404.8 84.33 405.3 85.53 405.8 86.44 406.3 87.16 406.8 87.98 407.3 89.05 407.8 89.41 408.3 90.1 408.8 91.24 409.3 92.24 409.8 92.86 410.3 93.45 410.8 93.87 411.3 94.95 411.8 94.98 412.3 95.74 412.8 96.71 413.3 97.36 413.8 97.56 414.3 98.44 414.8 98.39 415.3 99.21 415.8 99.29 416.3 99.84 416.8 100.22 417.3 100.47 417.8 101.11 418.3 101.51 418.8 101.66 419.3 102.2 419.8 102.04 420.3 102.6 420.8 102.81 421.3 102.9 421.8 103.41 422.3 102.99 422.8 103.3 423.3 103.4 423.8 103.39 424.3 103.83 424.8 103.54 425.3 103.48 425.8 103.37 426.3 103.28 426.8 103.53 427.3 103.29 427.8 103.02 428.3 102.5 428.8 102.58 429.3 102.02 429.8 101.91 430.3 101.39 430.8 101.55 431.3 101.4 431.8 100.8 432.3 100.36 432.8 99.73 433.3 99.42 433.8 98.97 434.3 98.46 434.8 97.84 435.3 97.27 435.8 97.09 436.3 96.65 436.8 95.96 437.3 95.2 437.8 94.14 438.3 93.67 438.8 93.36 439.3 92.75 439.8 91.73 440.3 91 440.8 90.32 441.3 89.23 441.8 88.75 442.3 87.69 442.8 87.2 443.3 86.08 443.8 85.35 444.3 84.39 444.8 83.48 445.3 82.52 445.8 81.94 446.3 80.86 446.8 79.67 447.3 78.77 447.8 78.07 448.3 76.98 448.8 75.91 449.3 75.12 449.8 73.51 450.3 72.82 450.8 71.81 451.3 70.65 451.8 69.95 452.3 68.9 452.8 67.44 453.3 66.53 453.8 65.56 454.3 64.44 454.8 63.13 455.3 62.36 455.8 60.96 456.3 59.74 456.8 59.02 457.3 57.92 457.8 56.67 458.3 55.65 458.8 54.91 459.3 53.71 459.8 52.36 460.3 51.64 460.8 50.33 461.3 49.16 461.8 48.27 462.3 47.32 462.8 46.36 463.3 45.16 463.8 44.14 464.3 42.93 464.8 41.67 465.3 40.97 465.8 39.74 466.3 39.34 466.8 37.97 467.3 37.19 467.8 36.34 468.3 35.03 468.8 34.58 469.3 33.32 469.8 32.27 470.3 31.77 470.8 30.78 471.3 30.3 471.8 29.16 472.3 28.11 472.8 27.28 473.3 26.52 473.8 26.1 474.3 25.53 474.8 24.36 475.3 23.87 475.8 23.31 476.3 22.96 476.8 22.39 477.3 21.73 477.8 20.98 478.3 20.38 478.8 19.6 479.3 19.37 479.8 18.57 480.3 18.2 480.8 18.13 481.3 17.53 481.8 17.25 482.3 16.71 482.8 16.24 483.3 16.08 483.8 15.84 484.3 15.34 484.8 15.52 485.3 15.41 485.8 14.66 486.3 14.54 486.8 14.8 487.3 14.63 487.8 14.2 488.3 14.4 488.8 14.12 489.3 14.56 489.8 14.39 490.3 14.38 490.8 14.21 491.3 14.48 491.8 14.66 492.3 14.73 492.8 14.79 493.3 15 493.8 15.59 494.3 16 494.8 16.23 495.3 16.37 495.8 16.83 496.3 16.73 496.8 17.16 497.3 17.92 497.8 17.86 498.3 18.37 498.8 19.33 499.3 19.43 499.8 19.95 500.3 20.64 500.8 21.52 501.3 21.54 501.8 22.76 502.3 23 502.8 23.84 503.3 24.45 503.8 24.9 504.3 26.21 504.8 26.4 505.3 27.6 505.8 28.42 506.3 28.92 506.8 30.09 507.3 30.29 507.8 31.19 508.3 32.29 508.8 32.88 509.3 34.29 509.8 35 510.3 36.11 510.8 36.69 511.3 37.45 511.8 39.02 512.3 39.51 512.8 40.64 513.3 41.43 513.8 42.76 514.3 43.69 514.8 44.53 515.3 45.45 515.8 46.69 516.3 48.05 516.8 48.67 517.3 49.78 517.8 51.11 518.3 52.19 518.8 53.39 519.3 54.35 519.8 55.57 520.3 56.17 520.8 57.79 521.3 58.25 521.8 59.39 522.3 60.46 522.8 62.02 523.3 62.91 523.8 64.28 524.3 65.39 524.8 66.44 525.3 67.28 525.8 68.15 526.3 69.63 526.8 70.53 527.3 71.2 527.8 72.48 528.3 73.14 528.8 74.16 529.3 75.6 529.8 76.66 530.3 77.75 530.8 78.65 531.3 79.19 531.8 80.56 532.3 81.68 532.8 82.39 533.3 83.17 533.8 83.94 534.3 84.67 534.8 85.93 535.3 87.02 535.8 87.27 536.3 88.59 536.8 89.45 537.3 89.85 537.8 90.97 538.3 91.23 538.8 92.06 539.3 92.96 539.8 93.87 540.3 94.3 540.8 94.64 541.3 95.85 541.8 96.21 542.3 96.94 542.8 97.12" fill="none" stroke="#4aaecb" stroke-width="1.45" stroke-linejoin="round" />
<path d="M283.8 19.53 284.3 19.88 284.8 20.5 285.3 21.24 285.8 21.82 286.3 22.61 286.8 23.37 287.3 23.67 287.8 24.77 288.3 25.27 288.8 25.78 289.3 26.4 289.8 27.7 290.3 28.27 290.8 28.63 291.3 29.89 291.8 30.51 292.3 31.38 292.8 32.49 293.3 32.98 293.8 33.91 294.3 35.01 294.8 36.18 295.3 36.55 295.8 38.02 296.3 38.9 296.8 39.49 297.3 40.81 297.8 41.78 298.3 42.85 298.8 43.74 299.3 44.61 299.8 45.77 300.3 46.62 300.8 47.82 301.3 48.84 301.8 49.69 302.3 50.84 302.8 51.99 303.3 53.1 303.8 54.29 304.3 55.5 304.8 56.24 305.3 57.53 305.8 58.46 306.3 59.47 306.8 60.49 307.3 62.15 307.8 63.21 308.3 64.21 308.8 64.83 309.3 65.88 309.8 66.92 310.3 68.12 310.8 69.26 311.3 70.02 311.8 71.35 312.3 72.58 312.8 73.71 313.3 74.28 313.8 75.15 314.3 76.71 314.8 77.41 315.3 78.34 315.8 79.2 316.3 80.24 316.8 81.18 317.3 82.1 317.8 83 318.3 84.1 318.8 85.19 319.3 85.71 319.8 86.64 320.3 87.53 320.8 88.6 321.3 89.35 321.8 90.29 322.3 90.49 322.8 91.69 323.3 92.06 323.8 92.97 324.3 93.62 324.8 94.33 325.3 94.8 325.8 95.25 326.3 95.81 326.8 97.04 327.3 97.58 327.8 97.82 328.3 98.08 328.8 99.09 329.3 99.33 329.8 99.75 330.3 100.29 330.8 100.35 331.3 100.77 331.8 101.53 332.3 101.8 332.8 102.27 333.3 102.16 333.8 102.78 334.3 102.94 334.8 102.87 335.3 103.31 335.8 102.94 336.3 102.99 336.8 103.61 337.3 103.2 337.8 103.5 338.3 103.67 338.8 103.61 339.3 103.25 339.8 103.58 340.3 102.96 340.8 103.21 341.3 103.3 341.8 102.88 342.3 102.51 342.8 102.77 343.3 102.34 343.8 102.11 344.3 101.88 344.8 101.58 345.3 100.98 345.8 100.78 346.3 100.15 346.8 99.56 347.3 99.12 347.8 98.64 348.3 97.98 348.8 97.88 349.3 97.18 349.8 96.97 350.3 95.79 350.8 95.69 351.3 94.65 351.8 94.09 352.3 93.39 352.8 93.16 353.3 92.23 353.8 91.38 354.3 90.43 354.8 89.56 355.3 89 355.8 88.61 356.3 87.42 356.8 86.74 357.3 86.03 357.8 84.57 358.3 83.87 358.8 83.04 359.3 81.99 359.8 81.16 360.3 80.43 360.8 79.09 361.3 78.51 361.8 77.25 362.3 76.51 362.8 75.17 363.3 74.59 363.8 73.31 364.3 72.57 364.8 71.63 365.3 70.32 365.8 68.87 366.3 68.06 366.8 67.42 367.3 66.13 367.8 65.13 368.3 63.86 368.8 63.1 369.3 62 369.8 60.71 370.3 59.61 370.8 58.19 371.3 57.04 371.8 56.09 372.3 55.37 372.8 54.38 373.3 53.25 373.8 52.26 374.3 50.6 374.8 49.53 375.3 48.63 375.8 47.41 376.3 46.76 376.8 45.97 377.3 44.91 377.8 43.34 378.3 42.71 378.8 41.71 379.3 40.71 379.8 39.56 380.3 38.46 380.8 37.96 381.3 37.02 381.8 35.96 382.3 34.92 382.8 33.65 383.3 32.93 383.8 32.03 384.3 31.17 384.8 30.31 385.3 29.8 385.8 29 386.3 27.85 386.8 27.59 387.3 26.2 387.8 26.13 388.3 25.16 388.8 24.5 389.3 23.57 389.8 23.2 390.3 22.7 390.8 21.61 391.3 20.97 391.8 20.86 392.3 19.94 392.8 19.31 393.3 19.08 393.8 18.39 394.3 17.96 394.8 17.58 395.3 17.04 395.8 17.17 396.3 16.64 396.8 16.37 397.3 15.81 397.8 15.87 398.3 15.74 398.8 15.54 399.3 14.67 399.8 14.68 400.3 14.38 400.8 14.52 401.3 14.55 401.8 14.44 402.3 14.22 402.8 14.63 403.3 14.39 403.8 14.69 404.3 14.35 404.8 14.59 405.3 14.32 405.8 14.76 406.3 15 406.8 14.9 407.3 15.39 407.8 15.29 408.3 15.79 408.8 16.18 409.3 16.41 409.8 16.52 410.3 16.92 410.8 17.44 411.3 18.05 411.8 18.34 412.3 18.64 412.8 19.22 413.3 19.72 413.8 20.13 414.3 21 414.8 21.5 415.3 22 415.8 22.4 416.3 23.68 416.8 23.74 417.3 24.48 417.8 25.31 418.3 26.38 418.8 27.23 419.3 27.87 419.8 28.27 420.3 29.51 420.8 29.77 421.3 30.66 421.8 31.51 422.3 32.69 422.8 33.6 423.3 34.52 423.8 35.66 424.3 36.45 424.8 37.38 425.3 37.94 425.8 39.42 426.3 40.4 426.8 41.33 427.3 41.8 427.8 43.25 428.3 44.14 428.8 45.17 429.3 46.02 429.8 47.42 430.3 48.49 430.8 49.52 431.3 50.25 431.8 51.62 432.3 52.24 432.8 53.73 433.3 54.35 433.8 55.41 434.3 56.56 434.8 58.03 435.3 59.35 435.8 60.07 436.3 61.28 436.8 62.32 437.3 63.57 437.8 64.74 438.3 65.71 438.8 66.44 439.3 67.32 439.8 68.96 440.3 69.58 440.8 70.96 441.3 72.08 441.8 72.62 442.3 73.67 442.8 74.84 443.3 76.15 443.8 77.15 444.3 78.23 444.8 78.7 445.3 79.91 445.8 81.04 446.3 81.63 446.8 82.7 447.3 83.36 447.8 84.69 448.3 85.29 448.8 86.18 449.3 87.15 449.8 87.74 450.3 88.91 450.8 89.46 451.3 90.21 451.8 91.18 452.3 91.88 452.8 92.64 453.3 93.46 453.8 94.09 454.3 94.47 454.8 95.28 455.3 96.05 455.8 96.08 456.3 97.08 456.8 97.54 457.3 97.99 457.8 98.3 458.3 98.9 458.8 99.68 459.3 100.21 459.8 100.7 460.3 100.92 460.8 101.37 461.3 101.67 461.8 101.52 462.3 102.18 462.8 102.56 463.3 102.72 463.8 102.6 464.3 103.08 464.8 103.02 465.3 103.18 465.8 103.5 466.3 103.54 466.8 103.21 467.3 103.59 467.8 103.19 468.3 103.27 468.8 103.65 469.3 103.63 469.8 103.07 470.3 103.29 470.8 102.73 471.3 102.77 471.8 102.46 472.3 102.04 472.8 102.02 473.3 101.82 473.8 101.72 474.3 100.86 474.8 100.63 475.3 100.05 475.8 99.78 476.3 99.39 476.8 99.32 477.3 98.92 477.8 97.91 478.3 97.57 478.8 97.04 479.3 96.45 479.8 96.18 480.3 95.56 480.8 94.28 481.3 93.88 481.8 93.28 482.3 92.67 482.8 91.86 483.3 91.32 483.8 90.06 484.3 89.54 484.8 89 485.3 87.72 485.8 86.89 486.3 86.36 486.8 85.16 487.3 84.56 487.8 83.38 488.3 82.51 488.8 81.69 489.3 81.07 489.8 80 490.3 79.04 490.8 78.08 491.3 76.93 491.8 76.34 492.3 75.07 492.8 74.07 493.3 72.66 493.8 71.75 494.3 70.95 494.8 70.16 495.3 68.93 495.8 67.42 496.3 66.88 496.8 65.39 497.3 64.59 497.8 63.23 498.3 62.06 498.8 61.47 499.3 60.19 499.8 59.19 500.3 58.18 500.8 57.02 501.3 55.81 501.8 54.66 502.3 53.73 502.8 52.46 503.3 51.4 503.8 50.72 504.3 49.33 504.8 48.54 505.3 47.46 505.8 46.26 506.3 45.45 506.8 44.11 507.3 42.86 507.8 42.44 508.3 41.37 508.8 40.37 509.3 39.52 509.8 38.2 510.3 37.26 510.8 36.44 511.3 35.7 511.8 34.37 512.3 33.8 512.8 33.06 513.3 31.7 513.8 30.68 514.3 29.94 514.8 29.46 515.3 28.35 515.8 28.08 516.3 26.72 516.8 26.53 517.3 25.42 517.8 25.11 518.3 24.01 518.8 23.19 519.3 22.93 519.8 22.04 520.3 21.89 520.8 21.22 521.3 20.27 521.8 19.89 522.3 19.42 522.8 19.09 523.3 18.26 523.8 18.03 524.3 17.58 524.8 17.23 525.3 16.84 525.8 16.41 526.3 16.06 526.8 15.77 527.3 15.92 527.8 15.34 528.3 14.83 528.8 14.84 529.3 14.94 529.8 14.74 530.3 14.2 530.8 14.35 531.3 14.31 531.8 14.55 532.3 14.14 532.8 14.61 533.3 14.58 533.8 14.09 534.3 14.52 534.8 14.67 535.3 14.89 535.8 15.24 536.3 14.96 536.8 15.63 537.3 15.31 537.8 16.16 538.3 16.06 538.8 16.23 539.3 17.13 539.8 17.62 540.3 17.8 540.8 18.31 541.3 18.49 541.8 18.86 542.3 19.65 542.8 20.28" fill="none" stroke="#b846f2" stroke-width="1.45" stroke-linejoin="round" />
<path d="M283.8 115.02 284.3 114.66 284.8 114.3 285.3 113.94 285.8 113.58 286.3 113.22 286.8 112.86 287.3 112.51 287.8 112.15 288.3 111.8 288.8 111.45 289.3 111.1 289.8 110.75 290.3 110.41 290.8 110.07 291.3 109.73 291.8 109.39 292.3 109.06 292.8 108.73 293.3 108.4 293.8 108.08 294.3 107.76 294.8 107.45 295.3 107.14 295.8 106.83 296.3 106.53 296.8 106.24 297.3 105.94 297.8 105.66 298.3 105.38 298.8 105.1 299.3 104.84 299.8 104.57 300.3 104.32 300.8 104.07 301.3 103.82 301.8 103.58 302.3 103.35 302.8 103.13 303.3 102.91 303.8 102.7 304.3 102.5 304.8 102.3 305.3 102.11 305.8 101.93 306.3 101.76 306.8 101.59 307.3 101.43 307.8 101.28 308.3 101.14 308.8 101 309.3 100.88 309.8 100.76 310.3 100.65 310.8 100.55 311.3 100.46 311.8 100.37 312.3 100.3 312.8 100.23 313.3 100.17 313.8 100.12 314.3 100.08 314.8 100.05 315.3 100.02 315.8 100.01 316.3 100 316.8 100 317.3 100.01 317.8 100.03 318.3 100.06 318.8 100.1 319.3 100.14 319.8 100.2 320.3 100.26 320.8 100.33 321.3 100.41 321.8 100.5 322.3 100.6 322.8 100.7 323.3 100.82 323.8 100.94 324.3 101.07 324.8 101.21 325.3 101.36 325.8 101.51 326.3 101.67 326.8 101.84 327.3 102.02 327.8 102.2 328.3 102.4 328.8 102.6 329.3 102.8 329.8 103.02 330.3 103.24 330.8 103.47 331.3 103.7 331.8 103.94 332.3 104.19 332.8 104.44 333.3 104.7 333.8 104.97 334.3 105.24 334.8 105.52 335.3 105.8 335.8 106.09 336.3 106.38 336.8 106.68 337.3 106.98 337.8 107.29 338.3 107.6 338.8 107.92 339.3 108.24 339.8 108.56 340.3 108.89 340.8 109.22 341.3 109.56 341.8 109.9 342.3 110.24 342.8 110.58 343.3 110.93 343.8 111.27 344.3 111.62 344.8 111.98 345.3 112.33 345.8 112.69 346.3 113.04 346.8 113.4 347.3 113.76 347.8 114.12 348.3 114.48 348.8 114.84 349.3 115.2 349.8 115.55 350.3 115.91 350.8 116.27 351.3 116.63 351.8 116.99 352.3 117.34 352.8 117.69 353.3 118.05 353.8 118.4 354.3 118.74 354.8 119.09 355.3 119.43 355.8 119.77 356.3 120.11 356.8 120.44 357.3 120.77 357.8 121.1 358.3 121.42 358.8 121.74 359.3 122.06 359.8 122.37 360.3 122.68 360.8 122.98 361.3 123.28 361.8 123.57 362.3 123.86 362.8 124.14 363.3 124.41 363.8 124.68 364.3 124.95 364.8 125.21 365.3 125.46 365.8 125.71 366.3 125.95 366.8 126.18 367.3 126.41 367.8 126.63 368.3 126.84 368.8 127.04 369.3 127.24 369.8 127.43 370.3 127.62 370.8 127.79 371.3 127.96 371.8 128.12 372.3 128.27 372.8 128.42 373.3 128.56 373.8 128.68 374.3 128.81 374.8 128.92 375.3 129.02 375.8 129.12 376.3 129.2 376.8 129.28 377.3 129.35 377.8 129.41 378.3 129.47 378.8 129.51 379.3 129.54 379.8 129.57 380.3 129.59 380.8 129.6 381.3 129.6 381.8 129.59 382.3 129.57 382.8 129.55 383.3 129.51 383.8 129.47 384.3 129.42 384.8 129.36 385.3 129.29 385.8 129.21 386.3 129.13 386.8 129.03 387.3 128.93 387.8 128.82 388.3 128.7 388.8 128.57 389.3 128.43 389.8 128.29 390.3 128.14 390.8 127.98 391.3 127.81 391.8 127.64 392.3 127.45 392.8 127.26 393.3 127.06 393.8 126.86 394.3 126.65 394.8 126.43 395.3 126.2 395.8 125.97 396.3 125.73 396.8 125.49 397.3 125.23 397.8 124.98 398.3 124.71 398.8 124.44 399.3 124.17 399.8 123.88 400.3 123.6 400.8 123.31 401.3 123.01 401.8 122.71 402.3 122.4 402.8 122.09 403.3 121.78 403.8 121.46 404.3 121.13 404.8 120.81 405.3 120.48 405.8 120.14 406.3 119.81 406.8 119.47 407.3 119.12 407.8 118.78 408.3 118.43 408.8 118.08 409.3 117.73 409.8 117.38 410.3 117.02 410.8 116.66 411.3 116.31 411.8 115.95 412.3 115.59 412.8 115.23 413.3 114.87 413.8 114.51 414.3 114.15 414.8 113.79 415.3 113.44 415.8 113.08 416.3 112.72 416.8 112.37 417.3 112.01 417.8 111.66 418.3 111.31 418.8 110.96 419.3 110.61 419.8 110.27 420.3 109.93 420.8 109.59 421.3 109.26 421.8 108.93 422.3 108.6 422.8 108.27 423.3 107.95 423.8 107.63 424.3 107.32 424.8 107.01 425.3 106.71 425.8 106.41 426.3 106.12 426.8 105.83 427.3 105.55 427.8 105.27 428.3 105 428.8 104.73 429.3 104.47 429.8 104.21 430.3 103.97 430.8 103.72 431.3 103.49 431.8 103.26 432.3 103.04 432.8 102.82 433.3 102.62 433.8 102.42 434.3 102.22 434.8 102.04 435.3 101.86 435.8 101.69 436.3 101.53 436.8 101.37 437.3 101.22 437.8 101.08 438.3 100.95 438.8 100.83 439.3 100.72 439.8 100.61 440.3 100.51 440.8 100.42 441.3 100.34 441.8 100.27 442.3 100.2 442.8 100.15 443.3 100.1 443.8 100.06 444.3 100.04 444.8 100.01 445.3 100 445.8 100 446.3 100.01 446.8 100.02 447.3 100.04 447.8 100.08 448.3 100.12 448.8 100.16 449.3 100.22 449.8 100.29 450.3 100.36 450.8 100.45 451.3 100.54 451.8 100.64 452.3 100.75 452.8 100.87 453.3 100.99 453.8 101.12 454.3 101.27 454.8 101.42 455.3 101.57 455.8 101.74 456.3 101.91 456.8 102.09 457.3 102.28 457.8 102.48 458.3 102.68 458.8 102.89 459.3 103.11 459.8 103.33 460.3 103.56 460.8 103.8 461.3 104.04 461.8 104.29 462.3 104.55 462.8 104.81 463.3 105.08 463.8 105.35 464.3 105.63 464.8 105.92 465.3 106.21 465.8 106.5 466.3 106.8 466.8 107.11 467.3 107.42 467.8 107.73 468.3 108.05 468.8 108.37 469.3 108.7 469.8 109.02 470.3 109.36 470.8 109.69 471.3 110.03 471.8 110.37 472.3 110.72 472.8 111.07 473.3 111.41 473.8 111.77 474.3 112.12 474.8 112.47 475.3 112.83 475.8 113.19 476.3 113.54 476.8 113.9 477.3 114.26 477.8 114.62 478.3 114.98 478.8 115.34 479.3 115.7 479.8 116.06 480.3 116.41 480.8 116.77 481.3 117.13 481.8 117.48 482.3 117.83 482.8 118.19 483.3 118.53 483.8 118.88 484.3 119.23 484.8 119.57 485.3 119.91 485.8 120.24 486.3 120.58 486.8 120.9 487.3 121.23 487.8 121.55 488.3 121.87 488.8 122.18 489.3 122.49 489.8 122.8 490.3 123.1 490.8 123.39 491.3 123.68 491.8 123.97 492.3 124.25 492.8 124.52 493.3 124.79 493.8 125.05 494.3 125.31 494.8 125.56 495.3 125.8 495.8 126.04 496.3 126.27 496.8 126.49 497.3 126.71 497.8 126.92 498.3 127.12 498.8 127.32 499.3 127.51 499.8 127.69 500.3 127.86 500.8 128.03 501.3 128.18 501.8 128.33 502.3 128.48 502.8 128.61 503.3 128.73 503.8 128.85 504.3 128.96 504.8 129.06 505.3 129.15 505.8 129.24 506.3 129.31 506.8 129.38 507.3 129.44 507.8 129.48 508.3 129.52 508.8 129.56 509.3 129.58 509.8 129.59 510.3 129.6 510.8 129.6 511.3 129.59 511.8 129.56 512.3 129.54 512.8 129.5 513.3 129.45 513.8 129.4 514.3 129.33 514.8 129.26 515.3 129.18 515.8 129.09 516.3 128.99 516.8 128.88 517.3 128.77 517.8 128.65 518.3 128.52 518.8 128.38 519.3 128.23 519.8 128.07 520.3 127.91 520.8 127.74 521.3 127.56 521.8 127.38 522.3 127.18 522.8 126.98 523.3 126.78 523.8 126.56 524.3 126.34 524.8 126.11 525.3 125.88 525.8 125.63 526.3 125.39 526.8 125.13 527.3 124.87 527.8 124.6 528.3 124.33 528.8 124.05 529.3 123.77 529.8 123.48 530.3 123.19 530.8 122.89 531.3 122.59 531.8 122.28 532.3 121.97 532.8 121.65 533.3 121.33 533.8 121 534.3 120.67 534.8 120.34 535.3 120.01 535.8 119.67 536.3 119.33 536.8 118.99 537.3 118.64 537.8 118.29 538.3 117.94 538.8 117.59 539.3 117.23 539.8 116.88 540.3 116.52 540.8 116.16 541.3 115.81 541.8 115.45 542.3 115.09 542.8 114.73" fill="none" stroke="#1ab262" stroke-width="1.5" stroke-linejoin="round" />
</g>
<rect x="461.1" y="4.2" width="79.3" height="13.6" fill="#fff"/>
<path d="M309.73 3.4v3M309.73 142.4v-3M335.66 3.4v3M335.66 142.4v-3M361.59 3.4v3M361.59 142.4v-3M387.52 3.4v3M387.52 142.4v-3M413.45 3.4v3M413.45 142.4v-3M439.38 3.4v3M439.38 142.4v-3M465.31 3.4v3M465.31 142.4v-3M491.24 3.4v3M491.24 142.4v-3M517.17 3.4v3M517.17 142.4v-3M283.8 17.3h3M543.1 17.3h-3M283.8 31.2h3M543.1 31.2h-3M283.8 45.1h3M543.1 45.1h-3M283.8 59h3M543.1 59h-3M283.8 72.9h3M543.1 72.9h-3M283.8 86.8h3M543.1 86.8h-3M283.8 100.7h3M543.1 100.7h-3M283.8 114.6h3M543.1 114.6h-3M283.8 128.5h3M543.1 128.5h-3" class="t"/>
<rect x="283.8" y="3.4" width="259.3" height="139" class="f"/>
<text x="311.7" y="26" class="i" font-size="13">v<tspan font-size="8.4" dy="1.6">oa</tspan></text>
<text x="353.5" y="26" class="i" font-size="13">v<tspan font-size="8.4" dy="1.6">ob</tspan></text>
<text x="397.9" y="26" class="i" font-size="13">v<tspan font-size="8.4" dy="1.6">oc</tspan></text>
<text x="311.1" y="110" class="i" font-size="13">i<tspan font-size="8.4" dy="1.6">oa</tspan></text>
<text x="464.1" y="15.8" class="i" font-size="13">THD<tspan font-size="8.6" dy="2.1">vo</tspan></text>
<text x="499.7" y="15.8" class="i" font-size="13">= 0.7%</text>
<text x="318.7" y="139.5" font-size="12.65">100 V/div &amp; 10 A/div</text>
<text x="454.9" y="134" font-size="12.6">4 ms/div</text>
<path d="M313 130.5V140.5" stroke="#111" stroke-width="1"/>
<path d="M310.7 133L313 128.7L315.3 133Z M310.7 138L313 142.2L315.3 138Z" fill="#111"/>
<path d="M468.1 138.2H487.9" stroke="#111" stroke-width="1.3"/>
<path d="M465.1 138.2L470.1 135.7L470.1 140.7Z M490.9 138.2L485.9 135.7L485.9 140.7Z" fill="#111"/>
<line x1="309.67" y1="157.6" x2="309.67" y2="297.3" class="g"/>
<line x1="335.74" y1="157.6" x2="335.74" y2="297.3" class="g"/>
<line x1="361.81" y1="157.6" x2="361.81" y2="297.3" class="g"/>
<line x1="387.88" y1="157.6" x2="387.88" y2="297.3" class="g"/>
<line x1="413.95" y1="157.6" x2="413.95" y2="297.3" class="g"/>
<line x1="440.02" y1="157.6" x2="440.02" y2="297.3" class="g"/>
<line x1="466.09" y1="157.6" x2="466.09" y2="297.3" class="g"/>
<line x1="492.16" y1="157.6" x2="492.16" y2="297.3" class="g"/>
<line x1="518.23" y1="157.6" x2="518.23" y2="297.3" class="g"/>
<line x1="283.6" y1="171.57" x2="544.3" y2="171.57" class="g"/>
<line x1="283.6" y1="185.54" x2="544.3" y2="185.54" class="g"/>
<line x1="283.6" y1="199.51" x2="544.3" y2="199.51" class="g"/>
<line x1="283.6" y1="213.48" x2="544.3" y2="213.48" class="g"/>
<line x1="283.6" y1="227.45" x2="544.3" y2="227.45" class="g"/>
<line x1="283.6" y1="241.42" x2="544.3" y2="241.42" class="g"/>
<line x1="283.6" y1="255.39" x2="544.3" y2="255.39" class="g"/>
<line x1="283.6" y1="269.36" x2="544.3" y2="269.36" class="g"/>
<line x1="283.6" y1="283.33" x2="544.3" y2="283.33" class="g"/>
<clipPath id="cb1"><rect x="283.6" y="157.6" width="260.7" height="139.7"/></clipPath>
<g clip-path="url(#cb1)">
<path d="M283.6 226.75 284.1 230.42 284.6 230.98 285.1 232.83 285.6 229.48 286.1 226.45 286.6 228.08 287.1 228.15 287.6 228.83 288.1 227.77 288.6 226.59 289.1 223.47 289.6 226.5 290.1 226.18 290.6 225.36 291.1 226.94 291.6 227.21 292.1 225.47 292.6 225.12 293.1 225.65 293.6 225.39 294.1 224.89 294.6 225.43 295.1 225.27 295.6 225.3 296.1 227.49 296.6 225 297.1 225.79 297.6 223.68 298.1 224.29 298.6 226.68 299.1 224.62 299.6 223.53 300.1 226.82 300.6 227.52 301.1 232.37 301.6 227.31 302.1 223.16 302.6 222.79 303.1 224.41 303.6 224.93 304.1 223.75 304.6 223.79 305.1 223 305.6 224.94 306.1 222.63 306.6 222.69 307.1 223.28 307.6 222.71 308.1 222.99 308.6 222.72 309.1 222.38 309.6 221.91 310.1 222.88 310.6 221.46 311.1 223.3 311.6 223.52 312.1 222.93 312.6 221.15 313.1 223.15 313.6 225.55 314.1 222.52 314.6 220.16 315.1 223.42 315.6 224.4 316.1 221.24 316.6 220.67 317.1 221.26 317.6 221.75 318.1 222.93 318.6 223.62 319.1 222.34 319.6 223.76 320.1 220.97 320.6 221.85 321.1 222.43 321.6 223.4 322.1 221.58 322.6 222.91 323.1 222.9 323.6 222.14 324.1 223.02 324.6 222.34 325.1 222.39 325.6 222.16 326.1 220.75 326.6 223.09 327.1 222.25 327.6 221.64 328.1 221.32 328.6 222.13 329.1 221.98 329.6 222.3 330.1 222.91 330.6 220.6 331.1 221.97 331.6 220.61 332.1 220.89 332.6 222.99 333.1 220.6 333.6 222 334.1 221.02 334.6 223.04 335.1 221.71 335.6 221.81 336.1 221.1 336.6 221.71 337.1 222.33 337.6 221.87 338.1 222.14 338.6 222.98 339.1 221.38 339.6 222.49 340.1 221.41 340.6 222.6 341.1 220.95 341.6 221.53 342.1 221.65 342.6 221.53 343.1 222.92 343.6 222.63 344.1 223.22 344.6 224.3 345.1 223.35 345.6 221.98 346.1 224.16 346.6 224.27 347.1 222 347.6 222.01 348.1 223.65 348.6 224.4 349.1 221.86 349.6 223.74 350.1 224.01 350.6 223.62 351.1 220.17 351.6 223.23 352.1 222.82 352.6 222.3 353.1 221.58 353.6 222.99 354.1 227.33 354.6 224.64 355.1 223.51 355.6 224.71 356.1 226.54 356.6 226.19 357.1 226.3 357.6 226.25 358.1 226.25 358.6 225.77 359.1 225.17 359.6 222.85 360.1 224.23 360.6 225.81 361.1 225.83 361.6 227.4 362.1 225.26 362.6 226.57 363.1 227.06 363.6 227.34 364.1 226.86 364.6 227.43 365.1 227.55 365.6 226.3 366.1 227.42 366.6 225.87 367.1 226.33 367.6 226.18 368.1 228.83 368.6 228.03 369.1 227.63 369.6 228.04 370.1 226.24 370.6 225.88 371.1 229.75 371.6 226.65 372.1 227.6 372.6 227.49 373.1 228.5 373.6 229.65 374.1 226.79 374.6 226.63 375.1 226.73 375.6 226.85 376.1 227.1 376.6 233.37 377.1 228.45 377.6 228.43 378.1 228.37 378.6 230.19 379.1 228.86 379.6 228.71 380.1 230.86 380.6 228.45 381.1 228.4 381.6 230.45 382.1 229.33 382.6 228.86 383.1 229.98 383.6 229.97 384.1 231.1 384.6 229.45 385.1 229.13 385.6 230.21 386.1 230.55 386.6 228.62 387.1 231.99 387.6 231.04 388.1 229.8 388.6 230.39 389.1 230.82 389.6 230.51 390.1 231.22 390.6 229.97 391.1 231.46 391.6 231.14 392.1 231.27 392.6 231.76 393.1 230.3 393.6 232.06 394.1 229.96 394.6 230.7 395.1 231.89 395.6 230.37 396.1 230.41 396.6 233.01 397.1 230.06 397.6 231.79 398.1 231.4 398.6 231.41 399.1 228.51 399.6 231.92 400.1 230.91 400.6 230.69 401.1 231.18 401.6 230.6 402.1 231.6 402.6 230.61 403.1 234.83 403.6 230.43 404.1 231.49 404.6 233.3 405.1 231.59 405.6 232.51 406.1 232.71 406.6 231.79 407.1 229.39 407.6 229.9 408.1 231.75 408.6 230.54 409.1 229.57 409.6 230.68 410.1 232.49 410.6 232.27 411.1 231.19 411.6 230.11 412.1 231.1 412.6 229.97 413.1 230.78 413.6 230.51 414.1 232.8 414.6 231.8 415.1 231.33 415.6 230.88 416.1 230.44 416.6 231.51 417.1 231.2 417.6 229.54 418.1 227.97 418.6 231.5 419.1 230.36 419.6 231.67 420.1 229.73 420.6 230.61 421.1 230.78 421.6 232.01 422.1 228.98 422.6 228.61 423.1 230.34 423.6 230.68 424.1 228.68 424.6 228.71 425.1 229.73 425.6 228.97 426.1 229.62 426.6 230.57 427.1 228.98 427.6 228.49 428.1 229.2 428.6 227.92 429.1 227.49 429.6 228.8 430.1 228.95 430.6 228.27 431.1 229.41 431.6 228.02 432.1 228 432.6 227.13 433.1 226.3 433.6 225.26 434.1 227.14 434.6 226.29 435.1 226.59 435.6 227.13 436.1 226.78 436.6 227.35 437.1 220.56 437.6 225.05 438.1 224.85 438.6 225.76 439.1 225.55 439.6 224.63 440.1 226.1 440.6 224.87 441.1 223.51 441.6 225.13 442.1 224.58 442.6 224.37 443.1 222.57 443.6 225.06 444.1 223.95 444.6 223.98 445.1 223.7 445.6 224.74 446.1 223.26 446.6 225.72 447.1 223.1 447.6 223.43 448.1 224.92 448.6 220.73 449.1 222.38 449.6 222.35 450.1 223.68 450.6 223.87 451.1 221.42 451.6 224.86 452.1 223.87 452.6 224.4 453.1 225.4 453.6 220.81 454.1 219.67 454.6 222.32 455.1 223.39 455.6 223.09 456.1 223.1 456.6 222.91 457.1 222.79 457.6 222.47 458.1 223.52 458.6 222.7 459.1 223.04 459.6 222.2 460.1 220.19 460.6 222.76 461.1 223.13 461.6 222.62 462.1 222.21 462.6 223.23 463.1 223.02 463.6 223.01 464.1 222.9 464.6 222.22 465.1 222.77 465.6 222.18 466.1 222.95 466.6 222.94 467.1 222.91 467.6 222.55 468.1 221.17 468.6 223.18 469.1 221.71 469.6 221.07 470.1 218.5 470.6 221.22 471.1 222.67 471.6 222.91 472.1 221.53 472.6 223.41 473.1 221.76 473.6 221.87 474.1 221.84 474.6 222.01 475.1 223.96 475.6 221.27 476.1 222.46 476.6 223.21 477.1 223.84 477.6 223.4 478.1 222.06 478.6 221.88 479.1 223.21 479.6 221.23 480.1 224.86 480.6 220.55 481.1 221.52 481.6 220.92 482.1 221.27 482.6 221.61 483.1 224.52 483.6 222.37 484.1 222.38 484.6 220.19 485.1 223.45 485.6 224.48 486.1 223.1 486.6 224.03 487.1 222.49 487.6 223.8 488.1 223.3 488.6 222.91 489.1 225.3 489.6 223.69 490.1 224.27 490.6 224.33 491.1 224.82 491.6 224.29 492.1 223.73 492.6 225.4 493.1 224.66 493.6 224.34 494.1 223.52 494.6 223.37 495.1 224.34 495.6 225.93 496.1 226.41 496.6 225.57 497.1 224.82 497.6 224.62 498.1 230.91 498.6 224.84 499.1 226.21 499.6 228.81 500.1 226.85 500.6 226.06 501.1 226.45 501.6 227.24 502.1 226.83 502.6 228.25 503.1 226.66 503.6 227 504.1 228.79 504.6 228.91 505.1 228.88 505.6 226.85 506.1 229.78 506.6 228.88 507.1 227.57 507.6 230.19 508.1 230.49 508.6 228.8 509.1 226.88 509.6 229.8 510.1 231.28 510.6 229.41 511.1 229.67 511.6 227.99 512.1 228.98 512.6 229.59 513.1 229.1 513.6 231.48 514.1 229.57 514.6 231.25 515.1 229.63 515.6 230.25 516.1 232.52 516.6 231.96 517.1 232.42 517.6 230.96 518.1 227.41 518.6 231.67 519.1 231.17 519.6 229.75 520.1 229.12 520.6 232 521.1 232.16 521.6 230.52 522.1 231.48 522.6 230.59 523.1 230.22 523.6 233.6 524.1 231.65 524.6 232.58 525.1 231.68 525.6 229.36 526.1 230.91 526.6 230.84 527.1 230.18 527.6 231.05 528.1 231.71 528.6 231.39 529.1 231.49 529.6 232.65 530.1 230.21 530.6 231.46 531.1 230.88 531.6 232.19 532.1 231.01 532.6 230.06 533.1 230.6 533.6 231.07 534.1 228.57 534.6 232.29 535.1 230.64 535.6 232.8 536.1 230.85 536.6 232.62 537.1 230.98 537.6 231.38 538.1 232.84 538.6 232.95 539.1 231.1 539.6 230.08 540.1 230.07 540.6 231.47 541.1 232.04 541.6 234.32 542.1 231.38 542.6 232.88 543.1 230.5 543.6 236.92 544.1 231.89" fill="none" stroke="#4aaecb" stroke-width="1.4" stroke-linejoin="round" />
<path d="M283.6 223.58 284.1 217.57 284.6 222.37 285.1 221.28 285.6 223.16 286.1 222.19 286.6 222.33 287.1 222.38 287.6 220.91 288.1 223.49 288.6 222 289.1 221.77 289.6 221.28 290.1 221.28 290.6 221.52 291.1 221.67 291.6 222.07 292.1 218.51 292.6 221.78 293.1 224.7 293.6 221.62 294.1 221.15 294.6 222.5 295.1 221.65 295.6 221.57 296.1 221.33 296.6 221.45 297.1 220.84 297.6 221.44 298.1 217.72 298.6 219.87 299.1 218.19 299.6 218.3 300.1 214.18 300.6 218.79 301.1 221.59 301.6 224.11 302.1 222.92 302.6 221.44 303.1 222.06 303.6 222.13 304.1 222.06 304.6 227.83 305.1 223.32 305.6 223.36 306.1 222.87 306.6 221.9 307.1 223.89 307.6 222.94 308.1 222.32 308.6 223.24 309.1 221.84 309.6 222.78 310.1 222.89 310.6 223.01 311.1 222.99 311.6 222.35 312.1 224.01 312.6 222.8 313.1 223.76 313.6 224.53 314.1 223.51 314.6 221.69 315.1 222.67 315.6 223.08 316.1 222.91 316.6 223.62 317.1 224.27 317.6 223.79 318.1 223.62 318.6 222.9 319.1 224.13 319.6 222.66 320.1 224.44 320.6 225.17 321.1 224.5 321.6 225.31 322.1 224.62 322.6 221.21 323.1 230.36 323.6 224.69 324.1 225.77 324.6 224.33 325.1 226.04 325.6 227.43 326.1 226.17 326.6 226.69 327.1 226.82 327.6 225.92 328.1 226.13 328.6 225.47 329.1 225.81 329.6 226.5 330.1 223.95 330.6 227.78 331.1 227.77 331.6 228.71 332.1 227.84 332.6 227.41 333.1 229.61 333.6 229.61 334.1 229.11 334.6 229.79 335.1 229.98 335.6 230.62 336.1 230.93 336.6 231 337.1 229.08 337.6 229.12 338.1 230.47 338.6 231.22 339.1 230.83 339.6 230.52 340.1 231.05 340.6 230.95 341.1 232.01 341.6 226.75 342.1 231.5 342.6 232.21 343.1 233.23 343.6 232.62 344.1 232.95 344.6 232.97 345.1 230.73 345.6 233.93 346.1 233.89 346.6 232.2 347.1 232.35 347.6 230.59 348.1 231.96 348.6 231.1 349.1 231.71 349.6 232.46 350.1 232.59 350.6 232.22 351.1 231.45 351.6 232.74 352.1 229.81 352.6 231.75 353.1 231.73 353.6 233.15 354.1 233.75 354.6 231.14 355.1 231.02 355.6 232.89 356.1 229.95 356.6 231.51 357.1 232.18 357.6 231.08 358.1 231.99 358.6 230.85 359.1 230.98 359.6 231.55 360.1 233.48 360.6 226.32 361.1 232.01 361.6 232.04 362.1 233.01 362.6 230.41 363.1 233.08 363.6 235.63 364.1 231.8 364.6 232.01 365.1 231.47 365.6 231.82 366.1 230.64 366.6 232.78 367.1 230.32 367.6 230.22 368.1 232.91 368.6 231.37 369.1 232.84 369.6 231.33 370.1 230.7 370.6 231.42 371.1 234.39 371.6 238.39 372.1 234.58 372.6 235.03 373.1 230.02 373.6 231.97 374.1 231.58 374.6 231.53 375.1 231.99 375.6 232.2 376.1 232.02 376.6 232.4 377.1 231.68 377.6 232.21 378.1 231.6 378.6 232 379.1 231.45 379.6 229.59 380.1 230.82 380.6 231.07 381.1 233.06 381.6 230.71 382.1 230.02 382.6 229.82 383.1 231.72 383.6 231.91 384.1 230.75 384.6 230.93 385.1 231.95 385.6 230.09 386.1 230.43 386.6 229.61 387.1 230.66 387.6 225.02 388.1 228.6 388.6 227.74 389.1 228.84 389.6 229.06 390.1 229.65 390.6 228.36 391.1 228.09 391.6 228.36 392.1 226.87 392.6 227.48 393.1 229.16 393.6 227.92 394.1 227.76 394.6 226.02 395.1 226.28 395.6 227.28 396.1 227.6 396.6 226.2 397.1 227.68 397.6 226.78 398.1 224.56 398.6 225.27 399.1 223.17 399.6 225.22 400.1 225.47 400.6 222.92 401.1 223.58 401.6 223.69 402.1 223.13 402.6 224.55 403.1 224.35 403.6 224.31 404.1 223.92 404.6 223.4 405.1 224.72 405.6 223.51 406.1 223.6 406.6 224.09 407.1 222.95 407.6 224.5 408.1 223.65 408.6 222.37 409.1 222.79 409.6 227.79 410.1 222.15 410.6 222.06 411.1 223.32 411.6 221.4 412.1 222.6 412.6 222.66 413.1 224 413.6 223.85 414.1 221.77 414.6 223.56 415.1 223.74 415.6 221.77 416.1 223.91 416.6 222.84 417.1 223.47 417.6 223.56 418.1 223.45 418.6 222.29 419.1 223.01 419.6 223.05 420.1 223.19 420.6 223.6 421.1 222.42 421.6 222.77 422.1 223.28 422.6 221.69 423.1 221.02 423.6 218.99 424.1 218.8 424.6 220.55 425.1 221.89 425.6 221.62 426.1 224.02 426.6 223.72 427.1 223.47 427.6 222.18 428.1 222.85 428.6 220.67 429.1 222.35 429.6 223.85 430.1 223.31 430.6 220.81 431.1 221.7 431.6 220.11 432.1 219.33 432.6 220.37 433.1 223.97 433.6 222.96 434.1 222.56 434.6 221.3 435.1 221.98 435.6 222.04 436.1 222.67 436.6 222.13 437.1 222.67 437.6 223.29 438.1 221.94 438.6 224.17 439.1 222.44 439.6 223.09 440.1 222.91 440.6 222.74 441.1 222.86 441.6 222.34 442.1 222.61 442.6 223.64 443.1 224.89 443.6 226.47 444.1 224.24 444.6 225.05 445.1 224.98 445.6 223.53 446.1 222.96 446.6 224.69 447.1 225.68 447.6 227.1 448.1 224 448.6 224.11 449.1 223.95 449.6 225.58 450.1 223.61 450.6 223.56 451.1 226.64 451.6 227.48 452.1 227.16 452.6 226.64 453.1 226.39 453.6 227.62 454.1 228.87 454.6 229.05 455.1 227.34 455.6 229.37 456.1 225.78 456.6 229.88 457.1 228.68 457.6 229.04 458.1 228.18 458.6 228.96 459.1 229.13 459.6 230.56 460.1 228.59 460.6 228.92 461.1 228.98 461.6 230.37 462.1 229.39 462.6 229.95 463.1 230.24 463.6 230.19 464.1 231.52 464.6 231.28 465.1 232.09 465.6 230.69 466.1 230.01 466.6 229.25 467.1 231.08 467.6 229.18 468.1 230.98 468.6 230.78 469.1 231.05 469.6 231.58 470.1 231.97 470.6 232.07 471.1 231.66 471.6 232.38 472.1 230.85 472.6 230.51 473.1 230.91 473.6 232.48 474.1 232.18 474.6 232.08 475.1 231.66 475.6 231.33 476.1 232.18 476.6 232.16 477.1 230.28 477.6 236.15 478.1 230.63 478.6 231.23 479.1 232.33 479.6 232.73 480.1 231.21 480.6 232.68 481.1 231.93 481.6 231.35 482.1 231.56 482.6 231.66 483.1 231.15 483.6 230.55 484.1 232.61 484.6 231.51 485.1 231.44 485.6 231.22 486.1 230.93 486.6 238.19 487.1 230.24 487.6 230 488.1 232.5 488.6 232.82 489.1 229.91 489.6 231.4 490.1 232.75 490.6 232.34 491.1 231.1 491.6 230.24 492.1 231.46 492.6 232.34 493.1 232.32 493.6 230.93 494.1 230.51 494.6 232.67 495.1 231.99 495.6 231.31 496.1 232.43 496.6 231.16 497.1 232.77 497.6 235.89 498.1 231.91 498.6 232.25 499.1 231.23 499.6 231.23 500.1 232.95 500.6 232.17 501.1 232.46 501.6 229.79 502.1 231.85 502.6 230.86 503.1 231.18 503.6 232.32 504.1 230.59 504.6 230.91 505.1 231.44 505.6 232.56 506.1 230.89 506.6 232.97 507.1 231.25 507.6 231.05 508.1 230.52 508.6 231.79 509.1 231.74 509.6 231.5 510.1 230.55 510.6 230.59 511.1 230.94 511.6 229.58 512.1 229.85 512.6 230.54 513.1 230.5 513.6 231.91 514.1 230.18 514.6 229.72 515.1 230.31 515.6 229.04 516.1 231.59 516.6 229.53 517.1 228.81 517.6 230.67 518.1 227.86 518.6 229.67 519.1 228.89 519.6 228.33 520.1 228.78 520.6 228.62 521.1 227.93 521.6 228.19 522.1 228.17 522.6 227.24 523.1 226.81 523.6 227.14 524.1 225.54 524.6 226.4 525.1 225.44 525.6 227.01 526.1 227.01 526.6 225.87 527.1 226.21 527.6 224.85 528.1 225.79 528.6 225.22 529.1 225.33 529.6 224.5 530.1 224.33 530.6 224.81 531.1 223.92 531.6 224.42 532.1 225.05 532.6 224.8 533.1 225.66 533.6 223.63 534.1 221.3 534.6 222.61 535.1 221.8 535.6 223.65 536.1 222.02 536.6 222.25 537.1 222.36 537.6 222.97 538.1 223.81 538.6 224.68 539.1 223.99 539.6 224.45 540.1 223.06 540.6 222 541.1 227.9 541.6 221.17 542.1 222.66 542.6 223.29 543.1 222.48 543.6 220.83 544.1 223.13" fill="none" stroke="#1c63a8" stroke-width="1.4" stroke-linejoin="round" />
<path d="M283.6 229.65 284.1 227.21 284.6 229.19 285.1 230.24 285.6 229.79 286.1 230.19 286.6 229.64 287.1 228.75 287.6 229.62 288.1 228.16 288.6 230.09 289.1 228.9 289.6 229.54 290.1 229.72 290.6 229.36 291.1 228.8 291.6 229.32 292.1 229.22 292.6 232.37 293.1 229.27 293.6 229.22 294.1 229.67 294.6 230.08 295.1 229.98 295.6 229.43 296.1 228.8 296.6 231.87 297.1 230.38 297.6 230.63 298.1 229.84 298.6 229.86 299.1 228.63 299.6 230.48 300.1 228.39 300.6 229.1 301.1 229.72 301.6 229.04 302.1 228.66 302.6 229.06 303.1 230.09 303.6 229.92 304.1 230.49 304.6 230.06 305.1 231.23 305.6 236.31 306.1 228.94 306.6 229.71 307.1 228.74 307.6 230.63 308.1 229.26 308.6 229.74 309.1 230.25 309.6 231.62 310.1 229.01 310.6 229.08 311.1 230.95 311.6 229.99 312.1 229.56 312.6 230.44 313.1 229.66 313.6 231.23 314.1 228.36 314.6 230.01 315.1 230.57 315.6 230.48 316.1 230.9 316.6 230.17 317.1 228.8 317.6 230.32 318.1 230.63 318.6 231.09 319.1 230.11 319.6 229.64 320.1 230.86 320.6 231.26 321.1 231.67 321.6 231.39 322.1 231.25 322.6 230.29 323.1 230.16 323.6 230.9 324.1 229.09 324.6 229.19 325.1 232.68 325.6 230.54 326.1 231.72 326.6 230.87 327.1 229.9 327.6 230.4 328.1 229.73 328.6 229.6 329.1 228.92 329.6 230.67 330.1 228.74 330.6 230.41 331.1 229.08 331.6 230.74 332.1 229.4 332.6 228.75 333.1 229.62 333.6 229.42 334.1 230.06 334.6 229.04 335.1 230.16 335.6 229.64 336.1 229.47 336.6 229.33 337.1 228.5 337.6 227.42 338.1 227.33 338.6 229.21 339.1 228.59 339.6 224.17 340.1 229.9 340.6 228.23 341.1 228.02 341.6 226.99 342.1 228 342.6 226.13 343.1 227.71 343.6 226.77 344.1 226.73 344.6 228.54 345.1 227.72 345.6 224.11 346.1 227.3 346.6 227.04 347.1 225.25 347.6 225.73 348.1 224.21 348.6 227.3 349.1 226.21 349.6 224.23 350.1 225.63 350.6 225.01 351.1 225.45 351.6 224.4 352.1 224.27 352.6 224.39 353.1 222.77 353.6 222.64 354.1 221.27 354.6 225.62 355.1 223.86 355.6 222.86 356.1 224.3 356.6 223.76 357.1 224.64 357.6 223.22 358.1 223.96 358.6 222.69 359.1 221.87 359.6 223.79 360.1 222.27 360.6 222.5 361.1 224.27 361.6 222.83 362.1 224.02 362.6 223.1 363.1 223.92 363.6 224.08 364.1 222.35 364.6 222.94 365.1 224.51 365.6 223.15 366.1 222.84 366.6 223.45 367.1 222.29 367.6 221.49 368.1 226.61 368.6 222.89 369.1 220.73 369.6 223.24 370.1 222.65 370.6 217.95 371.1 223.73 371.6 224.65 372.1 221.89 372.6 222.7 373.1 223.26 373.6 222.24 374.1 223.61 374.6 220.4 375.1 220.89 375.6 221.07 376.1 219.98 376.6 221.02 377.1 217.41 377.6 223.01 378.1 220.7 378.6 220.93 379.1 223.19 379.6 221.72 380.1 218.91 380.6 227.01 381.1 222.02 381.6 223.01 382.1 222.05 382.6 219.33 383.1 214.09 383.6 219.76 384.1 222.65 384.6 224.33 385.1 222.97 385.6 222.33 386.1 222.02 386.6 222.82 387.1 221.57 387.6 221.84 388.1 223.46 388.6 222.17 389.1 222.24 389.6 222.07 390.1 221.11 390.6 222.26 391.1 223.69 391.6 222.31 392.1 222.48 392.6 222.46 393.1 222.53 393.6 223.24 394.1 223.23 394.6 222.94 395.1 221.98 395.6 228.52 396.1 223.23 396.6 222.39 397.1 223.36 397.6 223.07 398.1 222.87 398.6 223.32 399.1 223.01 399.6 223.49 400.1 222.75 400.6 222.2 401.1 223.96 401.6 224.83 402.1 223.62 402.6 225.14 403.1 224.79 403.6 222.5 404.1 226.07 404.6 222.97 405.1 224.73 405.6 226.35 406.1 225.58 406.6 224.23 407.1 226.63 407.6 225.98 408.1 222.76 408.6 227.15 409.1 225.26 409.6 226.21 410.1 225.17 410.6 228.43 411.1 227.09 411.6 227.06 412.1 228.48 412.6 226.21 413.1 226.11 413.6 226.82 414.1 227.47 414.6 227.6 415.1 225.18 415.6 226.57 416.1 226.4 416.6 227.62 417.1 229.49 417.6 227.88 418.1 228.1 418.6 225.62 419.1 228.03 419.6 228.39 420.1 229.5 420.6 230.01 421.1 228.62 421.6 228.86 422.1 228.36 422.6 229.75 423.1 230.3 423.6 227.92 424.1 230.67 424.6 228.92 425.1 230.43 425.6 231.9 426.1 230.27 426.6 228.61 427.1 230.8 427.6 229.33 428.1 230.16 428.6 230.83 429.1 230.62 429.6 231.92 430.1 228.16 430.6 229.72 431.1 230.77 431.6 230.78 432.1 231.1 432.6 231.48 433.1 229.8 433.6 231.19 434.1 230.11 434.6 232.07 435.1 231.74 435.6 229.87 436.1 230.48 436.6 230.37 437.1 231.12 437.6 228.93 438.1 230.37 438.6 230.46 439.1 231.35 439.6 230.99 440.1 229.81 440.6 230.47 441.1 234.65 441.6 237.99 442.1 233.53 442.6 233.28 443.1 230.08 443.6 231.69 444.1 230.36 444.6 230.02 445.1 230.36 445.6 231.79 446.1 231.84 446.6 229.98 447.1 231.89 447.6 234.18 448.1 230.25 448.6 232.04 449.1 230.42 449.6 231.23 450.1 230.44 450.6 230.6 451.1 230.33 451.6 229.83 452.1 230.76 452.6 235.17 453.1 230.88 453.6 229.72 454.1 230.97 454.6 230.77 455.1 231.32 455.6 229.27 456.1 231.62 456.6 229.8 457.1 228.78 457.6 230.45 458.1 228.16 458.6 231.52 459.1 232.31 459.6 229.92 460.1 231.02 460.6 231.51 461.1 229.85 461.6 230.8 462.1 230.52 462.6 234.86 463.1 231.12 463.6 230.5 464.1 229.36 464.6 228.99 465.1 228.84 465.6 229.57 466.1 230.42 466.6 229.88 467.1 228.78 467.6 228.26 468.1 229.42 468.6 228.35 469.1 230.04 469.6 230.03 470.1 230.03 470.6 229.24 471.1 229.35 471.6 227.54 472.1 229.4 472.6 227.73 473.1 223 473.6 229.87 474.1 227.6 474.6 229.24 475.1 228.19 475.6 228.18 476.1 225.88 476.6 232.83 477.1 229.01 477.6 227.16 478.1 227.71 478.6 227.8 479.1 226.25 479.6 226.81 480.1 231.69 480.6 227.53 481.1 226.19 481.6 227.07 482.1 226.82 482.6 228.12 483.1 229.81 483.6 226.46 484.1 225.19 484.6 225.15 485.1 224.91 485.6 225.17 486.1 223.58 486.6 222.98 487.1 221.51 487.6 223.68 488.1 223.97 488.6 225.4 489.1 223.02 489.6 221.99 490.1 223.06 490.6 225.81 491.1 224.32 491.6 222.15 492.1 222.95 492.6 222.46 493.1 224.56 493.6 224.19 494.1 223.03 494.6 224.55 495.1 221.69 495.6 223.46 496.1 222.47 496.6 222.84 497.1 223.5 497.6 222.92 498.1 223.97 498.6 223.32 499.1 222.43 499.6 224.15 500.1 223.66 500.6 223.59 501.1 221.63 501.6 221.9 502.1 222.23 502.6 221.03 503.1 222.77 503.6 221.86 504.1 221.9 504.6 222.7 505.1 223.13 505.6 221.34 506.1 223.29 506.6 222.15 507.1 223.8 507.6 223.94 508.1 219.98 508.6 218.19 509.1 219.49 509.6 220.4 510.1 222.57 510.6 222.86 511.1 223.68 511.6 222.57 512.1 221.4 512.6 222.41 513.1 223.07 513.6 221.7 514.1 220.75 514.6 223.28 515.1 222.4 515.6 223.05 516.1 221.58 516.6 223 517.1 222.02 517.6 224.12 518.1 223.15 518.6 222.91 519.1 222.64 519.6 222.97 520.1 220.69 520.6 223.2 521.1 221.54 521.6 222.91 522.1 222.34 522.6 222.44 523.1 222.45 523.6 221.91 524.1 221.55 524.6 222.97 525.1 221.1 525.6 222.32 526.1 222.25 526.6 222.03 527.1 221.76 527.6 223.85 528.1 221.66 528.6 223.31 529.1 223.68 529.6 221.12 530.1 223.3 530.6 225.1 531.1 224.45 531.6 224.26 532.1 223.39 532.6 224.25 533.1 222.82 533.6 224.23 534.1 224.29 534.6 222.92 535.1 224.57 535.6 224.25 536.1 224.68 536.6 226.22 537.1 225 537.6 224.91 538.1 225.64 538.6 224.05 539.1 226.68 539.6 225.15 540.1 226.71 540.6 227.79 541.1 227.46 541.6 227.33 542.1 226.95 542.6 227.54 543.1 226.71 543.6 226.38 544.1 227.74" fill="none" stroke="#b846f2" stroke-width="1.4" stroke-linejoin="round" />
</g>
<path d="M309.67 157.6v3M309.67 297.3v-3M335.74 157.6v3M335.74 297.3v-3M361.81 157.6v3M361.81 297.3v-3M387.88 157.6v3M387.88 297.3v-3M413.95 157.6v3M413.95 297.3v-3M440.02 157.6v3M440.02 297.3v-3M466.09 157.6v3M466.09 297.3v-3M492.16 157.6v3M492.16 297.3v-3M518.23 157.6v3M518.23 297.3v-3M283.6 171.57h3M544.3 171.57h-3M283.6 185.54h3M544.3 185.54h-3M283.6 199.51h3M544.3 199.51h-3M283.6 213.48h3M544.3 213.48h-3M283.6 227.45h3M544.3 227.45h-3M283.6 241.42h3M544.3 241.42h-3M283.6 255.39h3M544.3 255.39h-3M283.6 269.36h3M544.3 269.36h-3M283.6 283.33h3M544.3 283.33h-3" class="t"/>
<rect x="283.6" y="157.6" width="260.7" height="139.7" class="f"/>
<text x="306" y="175.6" font-size="12.7">ave (abs(<tspan class="i">e</tspan><tspan class="i" font-size="8" dy="1.3">voa</tspan><tspan dy="-1.3">)+abs(</tspan><tspan class="i">e</tspan><tspan class="i" font-size="8" dy="1.3">vob</tspan><tspan dy="-1.3">)+abs(</tspan><tspan class="i">e</tspan><tspan class="i" font-size="8" dy="1.3">voc</tspan><tspan dy="-1.3">)) = 4.1 V</tspan></text>
<text x="295.5" y="206.8" class="i" font-size="12.5">e<tspan font-size="8.4" dy="2.1">voa</tspan></text>
<text x="327.5" y="206.8" class="i" font-size="12.5">e<tspan font-size="8.4" dy="2.1">vob</tspan></text>
<text x="371.5" y="206.8" class="i" font-size="12.5">e<tspan font-size="8.4" dy="2.1">voc</tspan></text>
<text x="318.7" y="279.7" font-size="12.5">10 V/div</text>
<text x="455.4" y="274.7" font-size="12.6">4 ms/div</text>
<path d="M312.5 271V281" stroke="#111" stroke-width="1"/>
<path d="M310.2 273.8L312.5 269.5L314.8 273.8Z M310.2 278.3L312.5 282.6L314.8 278.3Z" fill="#111"/>
<path d="M469.4 278.5H488.8" stroke="#111" stroke-width="1.3"/>
<path d="M466.4 278.5L471.4 276.0L471.4 281.0Z M491.8 278.5L486.8 276.0L486.8 281.0Z" fill="#111"/>
<text x="127.6" y="331.6" font-size="13" font-weight="bold" style="stroke-width:0">(a)</text>
<text x="406.4" y="331.6" font-size="13" font-weight="bold" style="stroke-width:0">(b)</text>
</svg>
</body></html>
